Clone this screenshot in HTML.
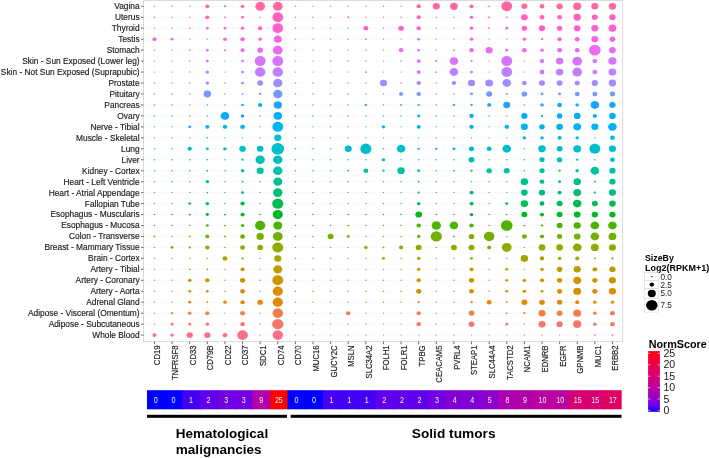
<!DOCTYPE html><html><head><meta charset="utf-8"><style>html,body{margin:0;padding:0;background:#fff;overflow:hidden}svg{display:block;will-change:transform}text{font-family:"Liberation Sans",sans-serif}</style></head><body>
<svg width="709" height="458" viewBox="0 0 709 458">
<rect x="0" y="0" width="709" height="458" fill="#fff"/>
<path d="M143.5 6.30H622.6M143.5 17.26H622.6M143.5 28.22H622.6M143.5 39.18H622.6M143.5 50.14H622.6M143.5 61.10H622.6M143.5 72.06H622.6M143.5 83.02H622.6M143.5 93.98H622.6M143.5 104.94H622.6M143.5 115.90H622.6M143.5 126.86H622.6M143.5 137.82H622.6M143.5 148.78H622.6M143.5 159.74H622.6M143.5 170.70H622.6M143.5 181.66H622.6M143.5 192.62H622.6M143.5 203.58H622.6M143.5 214.54H622.6M143.5 225.50H622.6M143.5 236.46H622.6M143.5 247.42H622.6M143.5 258.38H622.6M143.5 269.34H622.6M143.5 280.30H622.6M143.5 291.26H622.6M143.5 302.22H622.6M143.5 313.18H622.6M143.5 324.14H622.6M143.5 335.10H622.6" stroke="#e6e6ee" stroke-width="0.7" stroke-dasharray="0.7 1.3" fill="none"/>
<path d="M154.50 0.0V341.6M172.11 0.0V341.6M189.73 0.0V341.6M207.34 0.0V341.6M224.95 0.0V341.6M242.56 0.0V341.6M260.18 0.0V341.6M277.79 0.0V341.6M295.40 0.0V341.6M313.02 0.0V341.6M330.63 0.0V341.6M348.24 0.0V341.6M365.86 0.0V341.6M383.47 0.0V341.6M401.08 0.0V341.6M418.69 0.0V341.6M436.31 0.0V341.6M453.92 0.0V341.6M471.53 0.0V341.6M489.15 0.0V341.6M506.76 0.0V341.6M524.37 0.0V341.6M541.99 0.0V341.6M559.60 0.0V341.6M577.21 0.0V341.6M594.83 0.0V341.6M612.44 0.0V341.6" stroke="#eeeef4" stroke-width="0.6" stroke-dasharray="0.6 1.4" fill="none"/>
<ellipse cx="154.50" cy="6.30" rx="0.74" ry="0.68" fill="#FF67A3"/>
<ellipse cx="172.11" cy="6.30" rx="0.74" ry="0.68" fill="#FF67A3"/>
<ellipse cx="189.73" cy="6.30" rx="0.74" ry="0.68" fill="#FF67A3"/>
<ellipse cx="207.34" cy="6.30" rx="2.03" ry="1.86" fill="#FF67A3"/>
<ellipse cx="224.95" cy="6.30" rx="1.08" ry="0.99" fill="#FF67A3"/>
<ellipse cx="242.56" cy="6.30" rx="1.76" ry="1.61" fill="#FF67A3"/>
<ellipse cx="260.18" cy="6.30" rx="4.87" ry="4.47" fill="#FF67A3"/>
<ellipse cx="277.79" cy="6.30" rx="4.87" ry="4.47" fill="#FF67A3"/>
<ellipse cx="295.40" cy="6.30" rx="0.74" ry="0.68" fill="#FF67A3"/>
<ellipse cx="313.02" cy="6.30" rx="0.74" ry="0.68" fill="#FF67A3"/>
<ellipse cx="330.63" cy="6.30" rx="0.74" ry="0.68" fill="#FF67A3"/>
<ellipse cx="348.24" cy="6.30" rx="0.74" ry="0.68" fill="#FF67A3"/>
<ellipse cx="365.86" cy="6.30" rx="0.74" ry="0.68" fill="#FF67A3"/>
<ellipse cx="383.47" cy="6.30" rx="0.74" ry="0.68" fill="#FF67A3"/>
<ellipse cx="401.08" cy="6.30" rx="0.74" ry="0.68" fill="#FF67A3"/>
<ellipse cx="418.69" cy="6.30" rx="2.22" ry="2.03" fill="#FF67A3"/>
<ellipse cx="436.31" cy="6.30" rx="3.54" ry="3.25" fill="#FF67A3"/>
<ellipse cx="453.92" cy="6.30" rx="3.92" ry="3.60" fill="#FF67A3"/>
<ellipse cx="471.53" cy="6.30" rx="2.03" ry="1.86" fill="#FF67A3"/>
<ellipse cx="489.15" cy="6.30" rx="0.94" ry="0.87" fill="#FF67A3"/>
<ellipse cx="506.76" cy="6.30" rx="5.43" ry="4.99" fill="#FF67A3"/>
<ellipse cx="524.37" cy="6.30" rx="2.97" ry="2.73" fill="#FF67A3"/>
<ellipse cx="541.99" cy="6.30" rx="2.41" ry="2.21" fill="#FF67A3"/>
<ellipse cx="559.60" cy="6.30" rx="3.16" ry="2.90" fill="#FF67A3"/>
<ellipse cx="577.21" cy="6.30" rx="4.11" ry="3.77" fill="#FF67A3"/>
<ellipse cx="594.83" cy="6.30" rx="3.54" ry="3.25" fill="#FF67A3"/>
<ellipse cx="612.44" cy="6.30" rx="3.73" ry="3.42" fill="#FF67A3"/>
<ellipse cx="154.50" cy="17.26" rx="0.74" ry="0.68" fill="#FF62BA"/>
<ellipse cx="172.11" cy="17.26" rx="0.74" ry="0.68" fill="#FF62BA"/>
<ellipse cx="189.73" cy="17.26" rx="0.76" ry="0.69" fill="#FF62BA"/>
<ellipse cx="207.34" cy="17.26" rx="2.03" ry="1.86" fill="#FF62BA"/>
<ellipse cx="224.95" cy="17.26" rx="0.94" ry="0.87" fill="#FF62BA"/>
<ellipse cx="242.56" cy="17.26" rx="1.49" ry="1.36" fill="#FF62BA"/>
<ellipse cx="260.18" cy="17.26" rx="0.74" ry="0.68" fill="#FF62BA"/>
<ellipse cx="277.79" cy="17.26" rx="5.34" ry="4.90" fill="#FF62BA"/>
<ellipse cx="295.40" cy="17.26" rx="0.74" ry="0.68" fill="#FF62BA"/>
<ellipse cx="313.02" cy="17.26" rx="0.74" ry="0.68" fill="#FF62BA"/>
<ellipse cx="330.63" cy="17.26" rx="0.74" ry="0.68" fill="#FF62BA"/>
<ellipse cx="348.24" cy="17.26" rx="1.08" ry="0.99" fill="#FF62BA"/>
<ellipse cx="365.86" cy="17.26" rx="0.74" ry="0.68" fill="#FF62BA"/>
<ellipse cx="383.47" cy="17.26" rx="0.74" ry="0.68" fill="#FF62BA"/>
<ellipse cx="401.08" cy="17.26" rx="0.74" ry="0.68" fill="#FF62BA"/>
<ellipse cx="418.69" cy="17.26" rx="2.22" ry="2.03" fill="#FF62BA"/>
<ellipse cx="436.31" cy="17.26" rx="0.74" ry="0.68" fill="#FF62BA"/>
<ellipse cx="453.92" cy="17.26" rx="0.74" ry="0.68" fill="#FF62BA"/>
<ellipse cx="471.53" cy="17.26" rx="1.76" ry="1.61" fill="#FF62BA"/>
<ellipse cx="489.15" cy="17.26" rx="0.94" ry="0.87" fill="#FF62BA"/>
<ellipse cx="506.76" cy="17.26" rx="0.94" ry="0.87" fill="#FF62BA"/>
<ellipse cx="524.37" cy="17.26" rx="3.35" ry="3.08" fill="#FF62BA"/>
<ellipse cx="541.99" cy="17.26" rx="2.41" ry="2.21" fill="#FF62BA"/>
<ellipse cx="559.60" cy="17.26" rx="2.41" ry="2.21" fill="#FF62BA"/>
<ellipse cx="577.21" cy="17.26" rx="3.73" ry="3.42" fill="#FF62BA"/>
<ellipse cx="594.83" cy="17.26" rx="2.97" ry="2.73" fill="#FF62BA"/>
<ellipse cx="612.44" cy="17.26" rx="3.16" ry="2.90" fill="#FF62BA"/>
<ellipse cx="154.50" cy="28.22" rx="0.74" ry="0.68" fill="#FE61CE"/>
<ellipse cx="172.11" cy="28.22" rx="0.74" ry="0.68" fill="#FE61CE"/>
<ellipse cx="189.73" cy="28.22" rx="0.85" ry="0.78" fill="#FE61CE"/>
<ellipse cx="207.34" cy="28.22" rx="1.35" ry="1.24" fill="#FE61CE"/>
<ellipse cx="224.95" cy="28.22" rx="1.35" ry="1.24" fill="#FE61CE"/>
<ellipse cx="242.56" cy="28.22" rx="1.76" ry="1.61" fill="#FE61CE"/>
<ellipse cx="260.18" cy="28.22" rx="2.22" ry="2.03" fill="#FE61CE"/>
<ellipse cx="277.79" cy="28.22" rx="5.34" ry="4.90" fill="#FE61CE"/>
<ellipse cx="295.40" cy="28.22" rx="0.74" ry="0.68" fill="#FE61CE"/>
<ellipse cx="313.02" cy="28.22" rx="0.74" ry="0.68" fill="#FE61CE"/>
<ellipse cx="330.63" cy="28.22" rx="0.74" ry="0.68" fill="#FE61CE"/>
<ellipse cx="348.24" cy="28.22" rx="0.74" ry="0.68" fill="#FE61CE"/>
<ellipse cx="365.86" cy="28.22" rx="2.50" ry="2.30" fill="#FE61CE"/>
<ellipse cx="383.47" cy="28.22" rx="0.74" ry="0.68" fill="#FE61CE"/>
<ellipse cx="401.08" cy="28.22" rx="2.79" ry="2.56" fill="#FE61CE"/>
<ellipse cx="418.69" cy="28.22" rx="2.22" ry="2.03" fill="#FE61CE"/>
<ellipse cx="436.31" cy="28.22" rx="0.74" ry="0.68" fill="#FE61CE"/>
<ellipse cx="453.92" cy="28.22" rx="0.74" ry="0.68" fill="#FE61CE"/>
<ellipse cx="471.53" cy="28.22" rx="1.76" ry="1.61" fill="#FE61CE"/>
<ellipse cx="489.15" cy="28.22" rx="0.94" ry="0.87" fill="#FE61CE"/>
<ellipse cx="506.76" cy="28.22" rx="1.49" ry="1.36" fill="#FE61CE"/>
<ellipse cx="524.37" cy="28.22" rx="2.79" ry="2.56" fill="#FE61CE"/>
<ellipse cx="541.99" cy="28.22" rx="3.16" ry="2.90" fill="#FE61CE"/>
<ellipse cx="559.60" cy="28.22" rx="2.79" ry="2.56" fill="#FE61CE"/>
<ellipse cx="577.21" cy="28.22" rx="3.35" ry="3.08" fill="#FE61CE"/>
<ellipse cx="594.83" cy="28.22" rx="3.54" ry="3.25" fill="#FE61CE"/>
<ellipse cx="612.44" cy="28.22" rx="3.92" ry="3.60" fill="#FE61CE"/>
<ellipse cx="154.50" cy="39.18" rx="2.03" ry="1.86" fill="#F763E1"/>
<ellipse cx="172.11" cy="39.18" rx="1.49" ry="1.36" fill="#F763E1"/>
<ellipse cx="189.73" cy="39.18" rx="0.74" ry="0.68" fill="#F763E1"/>
<ellipse cx="207.34" cy="39.18" rx="0.76" ry="0.69" fill="#F763E1"/>
<ellipse cx="224.95" cy="39.18" rx="1.89" ry="1.74" fill="#F763E1"/>
<ellipse cx="242.56" cy="39.18" rx="2.22" ry="2.03" fill="#F763E1"/>
<ellipse cx="260.18" cy="39.18" rx="1.76" ry="1.61" fill="#F763E1"/>
<ellipse cx="277.79" cy="39.18" rx="3.92" ry="3.60" fill="#F763E1"/>
<ellipse cx="295.40" cy="39.18" rx="0.74" ry="0.68" fill="#F763E1"/>
<ellipse cx="313.02" cy="39.18" rx="0.74" ry="0.68" fill="#F763E1"/>
<ellipse cx="330.63" cy="39.18" rx="0.74" ry="0.68" fill="#F763E1"/>
<ellipse cx="348.24" cy="39.18" rx="0.85" ry="0.78" fill="#F763E1"/>
<ellipse cx="365.86" cy="39.18" rx="0.94" ry="0.87" fill="#F763E1"/>
<ellipse cx="383.47" cy="39.18" rx="0.74" ry="0.68" fill="#F763E1"/>
<ellipse cx="401.08" cy="39.18" rx="0.74" ry="0.68" fill="#F763E1"/>
<ellipse cx="418.69" cy="39.18" rx="1.35" ry="1.24" fill="#F763E1"/>
<ellipse cx="436.31" cy="39.18" rx="0.74" ry="0.68" fill="#F763E1"/>
<ellipse cx="453.92" cy="39.18" rx="0.74" ry="0.68" fill="#F763E1"/>
<ellipse cx="471.53" cy="39.18" rx="1.76" ry="1.61" fill="#F763E1"/>
<ellipse cx="489.15" cy="39.18" rx="0.76" ry="0.69" fill="#F763E1"/>
<ellipse cx="506.76" cy="39.18" rx="0.74" ry="0.68" fill="#F763E1"/>
<ellipse cx="524.37" cy="39.18" rx="1.76" ry="1.61" fill="#F763E1"/>
<ellipse cx="541.99" cy="39.18" rx="1.22" ry="1.12" fill="#F763E1"/>
<ellipse cx="559.60" cy="39.18" rx="2.22" ry="2.03" fill="#F763E1"/>
<ellipse cx="577.21" cy="39.18" rx="2.41" ry="2.21" fill="#F763E1"/>
<ellipse cx="594.83" cy="39.18" rx="3.35" ry="3.08" fill="#F763E1"/>
<ellipse cx="612.44" cy="39.18" rx="2.79" ry="2.56" fill="#F763E1"/>
<ellipse cx="154.50" cy="50.14" rx="0.74" ry="0.68" fill="#EA6AF0"/>
<ellipse cx="172.11" cy="50.14" rx="0.74" ry="0.68" fill="#EA6AF0"/>
<ellipse cx="189.73" cy="50.14" rx="0.85" ry="0.78" fill="#EA6AF0"/>
<ellipse cx="207.34" cy="50.14" rx="1.35" ry="1.24" fill="#EA6AF0"/>
<ellipse cx="224.95" cy="50.14" rx="1.08" ry="0.99" fill="#EA6AF0"/>
<ellipse cx="242.56" cy="50.14" rx="2.03" ry="1.86" fill="#EA6AF0"/>
<ellipse cx="260.18" cy="50.14" rx="2.79" ry="2.56" fill="#EA6AF0"/>
<ellipse cx="277.79" cy="50.14" rx="4.87" ry="4.47" fill="#EA6AF0"/>
<ellipse cx="295.40" cy="50.14" rx="0.74" ry="0.68" fill="#EA6AF0"/>
<ellipse cx="313.02" cy="50.14" rx="0.74" ry="0.68" fill="#EA6AF0"/>
<ellipse cx="330.63" cy="50.14" rx="0.74" ry="0.68" fill="#EA6AF0"/>
<ellipse cx="348.24" cy="50.14" rx="0.76" ry="0.69" fill="#EA6AF0"/>
<ellipse cx="365.86" cy="50.14" rx="0.74" ry="0.68" fill="#EA6AF0"/>
<ellipse cx="383.47" cy="50.14" rx="0.74" ry="0.68" fill="#EA6AF0"/>
<ellipse cx="401.08" cy="50.14" rx="2.22" ry="2.03" fill="#EA6AF0"/>
<ellipse cx="418.69" cy="50.14" rx="1.35" ry="1.24" fill="#EA6AF0"/>
<ellipse cx="436.31" cy="50.14" rx="0.74" ry="0.68" fill="#EA6AF0"/>
<ellipse cx="453.92" cy="50.14" rx="0.94" ry="0.87" fill="#EA6AF0"/>
<ellipse cx="471.53" cy="50.14" rx="2.22" ry="2.03" fill="#EA6AF0"/>
<ellipse cx="489.15" cy="50.14" rx="3.54" ry="3.25" fill="#EA6AF0"/>
<ellipse cx="506.76" cy="50.14" rx="1.49" ry="1.36" fill="#EA6AF0"/>
<ellipse cx="524.37" cy="50.14" rx="2.41" ry="2.21" fill="#EA6AF0"/>
<ellipse cx="541.99" cy="50.14" rx="1.76" ry="1.61" fill="#EA6AF0"/>
<ellipse cx="559.60" cy="50.14" rx="2.41" ry="2.21" fill="#EA6AF0"/>
<ellipse cx="577.21" cy="50.14" rx="2.41" ry="2.21" fill="#EA6AF0"/>
<ellipse cx="594.83" cy="50.14" rx="5.81" ry="5.33" fill="#EA6AF0"/>
<ellipse cx="612.44" cy="50.14" rx="3.35" ry="3.08" fill="#EA6AF0"/>
<ellipse cx="154.50" cy="61.10" rx="0.74" ry="0.68" fill="#D873FC"/>
<ellipse cx="172.11" cy="61.10" rx="0.76" ry="0.69" fill="#D873FC"/>
<ellipse cx="189.73" cy="61.10" rx="0.85" ry="0.78" fill="#D873FC"/>
<ellipse cx="207.34" cy="61.10" rx="1.49" ry="1.36" fill="#D873FC"/>
<ellipse cx="224.95" cy="61.10" rx="0.74" ry="0.68" fill="#D873FC"/>
<ellipse cx="242.56" cy="61.10" rx="1.35" ry="1.24" fill="#D873FC"/>
<ellipse cx="260.18" cy="61.10" rx="5.43" ry="4.99" fill="#D873FC"/>
<ellipse cx="277.79" cy="61.10" rx="5.43" ry="4.99" fill="#D873FC"/>
<ellipse cx="295.40" cy="61.10" rx="0.74" ry="0.68" fill="#D873FC"/>
<ellipse cx="313.02" cy="61.10" rx="0.74" ry="0.68" fill="#D873FC"/>
<ellipse cx="330.63" cy="61.10" rx="0.85" ry="0.78" fill="#D873FC"/>
<ellipse cx="348.24" cy="61.10" rx="0.85" ry="0.78" fill="#D873FC"/>
<ellipse cx="365.86" cy="61.10" rx="0.85" ry="0.78" fill="#D873FC"/>
<ellipse cx="383.47" cy="61.10" rx="0.76" ry="0.69" fill="#D873FC"/>
<ellipse cx="401.08" cy="61.10" rx="0.85" ry="0.78" fill="#D873FC"/>
<ellipse cx="418.69" cy="61.10" rx="2.03" ry="1.86" fill="#D873FC"/>
<ellipse cx="436.31" cy="61.10" rx="1.08" ry="0.99" fill="#D873FC"/>
<ellipse cx="453.92" cy="61.10" rx="4.30" ry="3.94" fill="#D873FC"/>
<ellipse cx="471.53" cy="61.10" rx="1.08" ry="0.99" fill="#D873FC"/>
<ellipse cx="489.15" cy="61.10" rx="0.76" ry="0.69" fill="#D873FC"/>
<ellipse cx="506.76" cy="61.10" rx="5.43" ry="4.99" fill="#D873FC"/>
<ellipse cx="524.37" cy="61.10" rx="0.74" ry="0.68" fill="#D873FC"/>
<ellipse cx="541.99" cy="61.10" rx="2.22" ry="2.03" fill="#D873FC"/>
<ellipse cx="559.60" cy="61.10" rx="3.73" ry="3.42" fill="#D873FC"/>
<ellipse cx="577.21" cy="61.10" rx="4.87" ry="4.47" fill="#D873FC"/>
<ellipse cx="594.83" cy="61.10" rx="2.41" ry="2.21" fill="#D873FC"/>
<ellipse cx="612.44" cy="61.10" rx="4.11" ry="3.77" fill="#D873FC"/>
<ellipse cx="154.50" cy="72.06" rx="0.74" ry="0.68" fill="#C07FFF"/>
<ellipse cx="172.11" cy="72.06" rx="0.74" ry="0.68" fill="#C07FFF"/>
<ellipse cx="189.73" cy="72.06" rx="0.76" ry="0.69" fill="#C07FFF"/>
<ellipse cx="207.34" cy="72.06" rx="1.76" ry="1.61" fill="#C07FFF"/>
<ellipse cx="224.95" cy="72.06" rx="0.74" ry="0.68" fill="#C07FFF"/>
<ellipse cx="242.56" cy="72.06" rx="1.49" ry="1.36" fill="#C07FFF"/>
<ellipse cx="260.18" cy="72.06" rx="5.25" ry="4.81" fill="#C07FFF"/>
<ellipse cx="277.79" cy="72.06" rx="5.25" ry="4.81" fill="#C07FFF"/>
<ellipse cx="295.40" cy="72.06" rx="0.74" ry="0.68" fill="#C07FFF"/>
<ellipse cx="313.02" cy="72.06" rx="0.74" ry="0.68" fill="#C07FFF"/>
<ellipse cx="330.63" cy="72.06" rx="0.74" ry="0.68" fill="#C07FFF"/>
<ellipse cx="348.24" cy="72.06" rx="0.74" ry="0.68" fill="#C07FFF"/>
<ellipse cx="365.86" cy="72.06" rx="0.94" ry="0.87" fill="#C07FFF"/>
<ellipse cx="383.47" cy="72.06" rx="0.74" ry="0.68" fill="#C07FFF"/>
<ellipse cx="401.08" cy="72.06" rx="0.74" ry="0.68" fill="#C07FFF"/>
<ellipse cx="418.69" cy="72.06" rx="2.03" ry="1.86" fill="#C07FFF"/>
<ellipse cx="436.31" cy="72.06" rx="0.94" ry="0.87" fill="#C07FFF"/>
<ellipse cx="453.92" cy="72.06" rx="4.30" ry="3.94" fill="#C07FFF"/>
<ellipse cx="471.53" cy="72.06" rx="1.49" ry="1.36" fill="#C07FFF"/>
<ellipse cx="489.15" cy="72.06" rx="0.74" ry="0.68" fill="#C07FFF"/>
<ellipse cx="506.76" cy="72.06" rx="5.43" ry="4.99" fill="#C07FFF"/>
<ellipse cx="524.37" cy="72.06" rx="0.74" ry="0.68" fill="#C07FFF"/>
<ellipse cx="541.99" cy="72.06" rx="2.41" ry="2.21" fill="#C07FFF"/>
<ellipse cx="559.60" cy="72.06" rx="3.73" ry="3.42" fill="#C07FFF"/>
<ellipse cx="577.21" cy="72.06" rx="4.87" ry="4.47" fill="#C07FFF"/>
<ellipse cx="594.83" cy="72.06" rx="2.41" ry="2.21" fill="#C07FFF"/>
<ellipse cx="612.44" cy="72.06" rx="3.92" ry="3.60" fill="#C07FFF"/>
<ellipse cx="154.50" cy="83.02" rx="0.74" ry="0.68" fill="#A08CFF"/>
<ellipse cx="172.11" cy="83.02" rx="0.74" ry="0.68" fill="#A08CFF"/>
<ellipse cx="189.73" cy="83.02" rx="0.85" ry="0.78" fill="#A08CFF"/>
<ellipse cx="207.34" cy="83.02" rx="1.76" ry="1.61" fill="#A08CFF"/>
<ellipse cx="224.95" cy="83.02" rx="0.76" ry="0.69" fill="#A08CFF"/>
<ellipse cx="242.56" cy="83.02" rx="1.49" ry="1.36" fill="#A08CFF"/>
<ellipse cx="260.18" cy="83.02" rx="2.97" ry="2.73" fill="#A08CFF"/>
<ellipse cx="277.79" cy="83.02" rx="4.68" ry="4.29" fill="#A08CFF"/>
<ellipse cx="295.40" cy="83.02" rx="0.74" ry="0.68" fill="#A08CFF"/>
<ellipse cx="313.02" cy="83.02" rx="0.74" ry="0.68" fill="#A08CFF"/>
<ellipse cx="330.63" cy="83.02" rx="0.74" ry="0.68" fill="#A08CFF"/>
<ellipse cx="348.24" cy="83.02" rx="0.74" ry="0.68" fill="#A08CFF"/>
<ellipse cx="365.86" cy="83.02" rx="0.74" ry="0.68" fill="#A08CFF"/>
<ellipse cx="383.47" cy="83.02" rx="3.54" ry="3.25" fill="#A08CFF"/>
<ellipse cx="401.08" cy="83.02" rx="0.74" ry="0.68" fill="#A08CFF"/>
<ellipse cx="418.69" cy="83.02" rx="2.22" ry="2.03" fill="#A08CFF"/>
<ellipse cx="436.31" cy="83.02" rx="0.74" ry="0.68" fill="#A08CFF"/>
<ellipse cx="453.92" cy="83.02" rx="2.22" ry="2.03" fill="#A08CFF"/>
<ellipse cx="471.53" cy="83.02" rx="3.54" ry="3.25" fill="#A08CFF"/>
<ellipse cx="489.15" cy="83.02" rx="3.92" ry="3.60" fill="#A08CFF"/>
<ellipse cx="506.76" cy="83.02" rx="4.30" ry="3.94" fill="#A08CFF"/>
<ellipse cx="524.37" cy="83.02" rx="2.41" ry="2.21" fill="#A08CFF"/>
<ellipse cx="541.99" cy="83.02" rx="2.97" ry="2.73" fill="#A08CFF"/>
<ellipse cx="559.60" cy="83.02" rx="2.97" ry="2.73" fill="#A08CFF"/>
<ellipse cx="577.21" cy="83.02" rx="2.60" ry="2.38" fill="#A08CFF"/>
<ellipse cx="594.83" cy="83.02" rx="3.16" ry="2.90" fill="#A08CFF"/>
<ellipse cx="612.44" cy="83.02" rx="3.73" ry="3.42" fill="#A08CFF"/>
<ellipse cx="154.50" cy="93.98" rx="0.74" ry="0.68" fill="#7498FF"/>
<ellipse cx="172.11" cy="93.98" rx="0.74" ry="0.68" fill="#7498FF"/>
<ellipse cx="189.73" cy="93.98" rx="0.74" ry="0.68" fill="#7498FF"/>
<ellipse cx="207.34" cy="93.98" rx="3.73" ry="3.42" fill="#7498FF"/>
<ellipse cx="224.95" cy="93.98" rx="0.74" ry="0.68" fill="#7498FF"/>
<ellipse cx="242.56" cy="93.98" rx="0.94" ry="0.87" fill="#7498FF"/>
<ellipse cx="260.18" cy="93.98" rx="1.22" ry="1.12" fill="#7498FF"/>
<ellipse cx="277.79" cy="93.98" rx="4.68" ry="4.29" fill="#7498FF"/>
<ellipse cx="295.40" cy="93.98" rx="0.74" ry="0.68" fill="#7498FF"/>
<ellipse cx="313.02" cy="93.98" rx="0.74" ry="0.68" fill="#7498FF"/>
<ellipse cx="330.63" cy="93.98" rx="0.74" ry="0.68" fill="#7498FF"/>
<ellipse cx="348.24" cy="93.98" rx="0.76" ry="0.69" fill="#7498FF"/>
<ellipse cx="365.86" cy="93.98" rx="0.74" ry="0.68" fill="#7498FF"/>
<ellipse cx="383.47" cy="93.98" rx="0.74" ry="0.68" fill="#7498FF"/>
<ellipse cx="401.08" cy="93.98" rx="2.03" ry="1.86" fill="#7498FF"/>
<ellipse cx="418.69" cy="93.98" rx="2.22" ry="2.03" fill="#7498FF"/>
<ellipse cx="436.31" cy="93.98" rx="0.74" ry="0.68" fill="#7498FF"/>
<ellipse cx="453.92" cy="93.98" rx="0.76" ry="0.69" fill="#7498FF"/>
<ellipse cx="471.53" cy="93.98" rx="1.49" ry="1.36" fill="#7498FF"/>
<ellipse cx="489.15" cy="93.98" rx="2.97" ry="2.73" fill="#7498FF"/>
<ellipse cx="506.76" cy="93.98" rx="0.94" ry="0.87" fill="#7498FF"/>
<ellipse cx="524.37" cy="93.98" rx="2.79" ry="2.56" fill="#7498FF"/>
<ellipse cx="541.99" cy="93.98" rx="1.49" ry="1.36" fill="#7498FF"/>
<ellipse cx="559.60" cy="93.98" rx="1.49" ry="1.36" fill="#7498FF"/>
<ellipse cx="577.21" cy="93.98" rx="2.41" ry="2.21" fill="#7498FF"/>
<ellipse cx="594.83" cy="93.98" rx="2.41" ry="2.21" fill="#7498FF"/>
<ellipse cx="612.44" cy="93.98" rx="2.60" ry="2.38" fill="#7498FF"/>
<ellipse cx="154.50" cy="104.94" rx="0.74" ry="0.68" fill="#1EA3FF"/>
<ellipse cx="172.11" cy="104.94" rx="0.74" ry="0.68" fill="#1EA3FF"/>
<ellipse cx="189.73" cy="104.94" rx="0.74" ry="0.68" fill="#1EA3FF"/>
<ellipse cx="207.34" cy="104.94" rx="0.76" ry="0.69" fill="#1EA3FF"/>
<ellipse cx="224.95" cy="104.94" rx="0.74" ry="0.68" fill="#1EA3FF"/>
<ellipse cx="242.56" cy="104.94" rx="1.35" ry="1.24" fill="#1EA3FF"/>
<ellipse cx="260.18" cy="104.94" rx="2.22" ry="2.03" fill="#1EA3FF"/>
<ellipse cx="277.79" cy="104.94" rx="4.11" ry="3.77" fill="#1EA3FF"/>
<ellipse cx="295.40" cy="104.94" rx="0.74" ry="0.68" fill="#1EA3FF"/>
<ellipse cx="313.02" cy="104.94" rx="0.74" ry="0.68" fill="#1EA3FF"/>
<ellipse cx="330.63" cy="104.94" rx="0.74" ry="0.68" fill="#1EA3FF"/>
<ellipse cx="348.24" cy="104.94" rx="0.74" ry="0.68" fill="#1EA3FF"/>
<ellipse cx="365.86" cy="104.94" rx="1.22" ry="1.12" fill="#1EA3FF"/>
<ellipse cx="383.47" cy="104.94" rx="0.74" ry="0.68" fill="#1EA3FF"/>
<ellipse cx="401.08" cy="104.94" rx="0.94" ry="0.87" fill="#1EA3FF"/>
<ellipse cx="418.69" cy="104.94" rx="1.08" ry="0.99" fill="#1EA3FF"/>
<ellipse cx="436.31" cy="104.94" rx="0.74" ry="0.68" fill="#1EA3FF"/>
<ellipse cx="453.92" cy="104.94" rx="1.22" ry="1.12" fill="#1EA3FF"/>
<ellipse cx="471.53" cy="104.94" rx="1.22" ry="1.12" fill="#1EA3FF"/>
<ellipse cx="489.15" cy="104.94" rx="2.03" ry="1.86" fill="#1EA3FF"/>
<ellipse cx="506.76" cy="104.94" rx="3.54" ry="3.25" fill="#1EA3FF"/>
<ellipse cx="524.37" cy="104.94" rx="0.74" ry="0.68" fill="#1EA3FF"/>
<ellipse cx="541.99" cy="104.94" rx="1.76" ry="1.61" fill="#1EA3FF"/>
<ellipse cx="559.60" cy="104.94" rx="2.41" ry="2.21" fill="#1EA3FF"/>
<ellipse cx="577.21" cy="104.94" rx="1.76" ry="1.61" fill="#1EA3FF"/>
<ellipse cx="594.83" cy="104.94" rx="4.30" ry="3.94" fill="#1EA3FF"/>
<ellipse cx="612.44" cy="104.94" rx="3.16" ry="2.90" fill="#1EA3FF"/>
<ellipse cx="154.50" cy="115.90" rx="0.74" ry="0.68" fill="#00ADFB"/>
<ellipse cx="172.11" cy="115.90" rx="0.74" ry="0.68" fill="#00ADFB"/>
<ellipse cx="189.73" cy="115.90" rx="0.74" ry="0.68" fill="#00ADFB"/>
<ellipse cx="207.34" cy="115.90" rx="0.76" ry="0.69" fill="#00ADFB"/>
<ellipse cx="224.95" cy="115.90" rx="4.30" ry="3.94" fill="#00ADFB"/>
<ellipse cx="242.56" cy="115.90" rx="1.76" ry="1.61" fill="#00ADFB"/>
<ellipse cx="260.18" cy="115.90" rx="0.74" ry="0.68" fill="#00ADFB"/>
<ellipse cx="277.79" cy="115.90" rx="4.30" ry="3.94" fill="#00ADFB"/>
<ellipse cx="295.40" cy="115.90" rx="0.74" ry="0.68" fill="#00ADFB"/>
<ellipse cx="313.02" cy="115.90" rx="0.74" ry="0.68" fill="#00ADFB"/>
<ellipse cx="330.63" cy="115.90" rx="0.74" ry="0.68" fill="#00ADFB"/>
<ellipse cx="348.24" cy="115.90" rx="0.74" ry="0.68" fill="#00ADFB"/>
<ellipse cx="365.86" cy="115.90" rx="0.74" ry="0.68" fill="#00ADFB"/>
<ellipse cx="383.47" cy="115.90" rx="0.74" ry="0.68" fill="#00ADFB"/>
<ellipse cx="401.08" cy="115.90" rx="0.74" ry="0.68" fill="#00ADFB"/>
<ellipse cx="418.69" cy="115.90" rx="1.49" ry="1.36" fill="#00ADFB"/>
<ellipse cx="436.31" cy="115.90" rx="0.74" ry="0.68" fill="#00ADFB"/>
<ellipse cx="453.92" cy="115.90" rx="0.74" ry="0.68" fill="#00ADFB"/>
<ellipse cx="471.53" cy="115.90" rx="2.22" ry="2.03" fill="#00ADFB"/>
<ellipse cx="489.15" cy="115.90" rx="0.76" ry="0.69" fill="#00ADFB"/>
<ellipse cx="506.76" cy="115.90" rx="0.76" ry="0.69" fill="#00ADFB"/>
<ellipse cx="524.37" cy="115.90" rx="3.16" ry="2.90" fill="#00ADFB"/>
<ellipse cx="541.99" cy="115.90" rx="1.22" ry="1.12" fill="#00ADFB"/>
<ellipse cx="559.60" cy="115.90" rx="2.79" ry="2.56" fill="#00ADFB"/>
<ellipse cx="577.21" cy="115.90" rx="3.35" ry="3.08" fill="#00ADFB"/>
<ellipse cx="594.83" cy="115.90" rx="2.03" ry="1.86" fill="#00ADFB"/>
<ellipse cx="612.44" cy="115.90" rx="3.35" ry="3.08" fill="#00ADFB"/>
<ellipse cx="154.50" cy="126.86" rx="0.74" ry="0.68" fill="#00B4EF"/>
<ellipse cx="172.11" cy="126.86" rx="0.76" ry="0.69" fill="#00B4EF"/>
<ellipse cx="189.73" cy="126.86" rx="1.49" ry="1.36" fill="#00B4EF"/>
<ellipse cx="207.34" cy="126.86" rx="2.03" ry="1.86" fill="#00B4EF"/>
<ellipse cx="224.95" cy="126.86" rx="2.22" ry="2.03" fill="#00B4EF"/>
<ellipse cx="242.56" cy="126.86" rx="2.41" ry="2.21" fill="#00B4EF"/>
<ellipse cx="260.18" cy="126.86" rx="0.76" ry="0.69" fill="#00B4EF"/>
<ellipse cx="277.79" cy="126.86" rx="5.43" ry="4.99" fill="#00B4EF"/>
<ellipse cx="295.40" cy="126.86" rx="0.74" ry="0.68" fill="#00B4EF"/>
<ellipse cx="313.02" cy="126.86" rx="0.74" ry="0.68" fill="#00B4EF"/>
<ellipse cx="330.63" cy="126.86" rx="0.74" ry="0.68" fill="#00B4EF"/>
<ellipse cx="348.24" cy="126.86" rx="0.74" ry="0.68" fill="#00B4EF"/>
<ellipse cx="365.86" cy="126.86" rx="0.74" ry="0.68" fill="#00B4EF"/>
<ellipse cx="383.47" cy="126.86" rx="1.76" ry="1.61" fill="#00B4EF"/>
<ellipse cx="401.08" cy="126.86" rx="0.74" ry="0.68" fill="#00B4EF"/>
<ellipse cx="418.69" cy="126.86" rx="2.03" ry="1.86" fill="#00B4EF"/>
<ellipse cx="436.31" cy="126.86" rx="0.74" ry="0.68" fill="#00B4EF"/>
<ellipse cx="453.92" cy="126.86" rx="0.74" ry="0.68" fill="#00B4EF"/>
<ellipse cx="471.53" cy="126.86" rx="2.22" ry="2.03" fill="#00B4EF"/>
<ellipse cx="489.15" cy="126.86" rx="0.76" ry="0.69" fill="#00B4EF"/>
<ellipse cx="506.76" cy="126.86" rx="2.22" ry="2.03" fill="#00B4EF"/>
<ellipse cx="524.37" cy="126.86" rx="3.54" ry="3.25" fill="#00B4EF"/>
<ellipse cx="541.99" cy="126.86" rx="2.79" ry="2.56" fill="#00B4EF"/>
<ellipse cx="559.60" cy="126.86" rx="3.35" ry="3.08" fill="#00B4EF"/>
<ellipse cx="577.21" cy="126.86" rx="3.92" ry="3.60" fill="#00B4EF"/>
<ellipse cx="594.83" cy="126.86" rx="3.54" ry="3.25" fill="#00B4EF"/>
<ellipse cx="612.44" cy="126.86" rx="4.30" ry="3.94" fill="#00B4EF"/>
<ellipse cx="154.50" cy="137.82" rx="0.74" ry="0.68" fill="#00BAE0"/>
<ellipse cx="172.11" cy="137.82" rx="0.74" ry="0.68" fill="#00BAE0"/>
<ellipse cx="189.73" cy="137.82" rx="0.74" ry="0.68" fill="#00BAE0"/>
<ellipse cx="207.34" cy="137.82" rx="0.85" ry="0.78" fill="#00BAE0"/>
<ellipse cx="224.95" cy="137.82" rx="0.74" ry="0.68" fill="#00BAE0"/>
<ellipse cx="242.56" cy="137.82" rx="0.76" ry="0.69" fill="#00BAE0"/>
<ellipse cx="260.18" cy="137.82" rx="0.74" ry="0.68" fill="#00BAE0"/>
<ellipse cx="277.79" cy="137.82" rx="3.54" ry="3.25" fill="#00BAE0"/>
<ellipse cx="295.40" cy="137.82" rx="0.74" ry="0.68" fill="#00BAE0"/>
<ellipse cx="313.02" cy="137.82" rx="0.74" ry="0.68" fill="#00BAE0"/>
<ellipse cx="330.63" cy="137.82" rx="0.74" ry="0.68" fill="#00BAE0"/>
<ellipse cx="348.24" cy="137.82" rx="0.74" ry="0.68" fill="#00BAE0"/>
<ellipse cx="365.86" cy="137.82" rx="0.74" ry="0.68" fill="#00BAE0"/>
<ellipse cx="383.47" cy="137.82" rx="0.74" ry="0.68" fill="#00BAE0"/>
<ellipse cx="401.08" cy="137.82" rx="0.74" ry="0.68" fill="#00BAE0"/>
<ellipse cx="418.69" cy="137.82" rx="0.74" ry="0.68" fill="#00BAE0"/>
<ellipse cx="436.31" cy="137.82" rx="0.74" ry="0.68" fill="#00BAE0"/>
<ellipse cx="453.92" cy="137.82" rx="0.74" ry="0.68" fill="#00BAE0"/>
<ellipse cx="471.53" cy="137.82" rx="0.74" ry="0.68" fill="#00BAE0"/>
<ellipse cx="489.15" cy="137.82" rx="0.74" ry="0.68" fill="#00BAE0"/>
<ellipse cx="506.76" cy="137.82" rx="0.74" ry="0.68" fill="#00BAE0"/>
<ellipse cx="524.37" cy="137.82" rx="1.76" ry="1.61" fill="#00BAE0"/>
<ellipse cx="541.99" cy="137.82" rx="1.76" ry="1.61" fill="#00BAE0"/>
<ellipse cx="559.60" cy="137.82" rx="2.03" ry="1.86" fill="#00BAE0"/>
<ellipse cx="577.21" cy="137.82" rx="1.76" ry="1.61" fill="#00BAE0"/>
<ellipse cx="594.83" cy="137.82" rx="0.74" ry="0.68" fill="#00BAE0"/>
<ellipse cx="612.44" cy="137.82" rx="2.41" ry="2.21" fill="#00BAE0"/>
<ellipse cx="154.50" cy="148.78" rx="0.74" ry="0.68" fill="#00BECE"/>
<ellipse cx="172.11" cy="148.78" rx="0.74" ry="0.68" fill="#00BECE"/>
<ellipse cx="189.73" cy="148.78" rx="2.22" ry="2.03" fill="#00BECE"/>
<ellipse cx="207.34" cy="148.78" rx="1.49" ry="1.36" fill="#00BECE"/>
<ellipse cx="224.95" cy="148.78" rx="1.76" ry="1.61" fill="#00BECE"/>
<ellipse cx="242.56" cy="148.78" rx="3.35" ry="3.08" fill="#00BECE"/>
<ellipse cx="260.18" cy="148.78" rx="3.35" ry="3.08" fill="#00BECE"/>
<ellipse cx="277.79" cy="148.78" rx="6.38" ry="5.85" fill="#00BECE"/>
<ellipse cx="295.40" cy="148.78" rx="0.74" ry="0.68" fill="#00BECE"/>
<ellipse cx="313.02" cy="148.78" rx="0.74" ry="0.68" fill="#00BECE"/>
<ellipse cx="330.63" cy="148.78" rx="0.74" ry="0.68" fill="#00BECE"/>
<ellipse cx="348.24" cy="148.78" rx="3.54" ry="3.25" fill="#00BECE"/>
<ellipse cx="365.86" cy="148.78" rx="5.62" ry="5.16" fill="#00BECE"/>
<ellipse cx="383.47" cy="148.78" rx="0.76" ry="0.69" fill="#00BECE"/>
<ellipse cx="401.08" cy="148.78" rx="4.30" ry="3.94" fill="#00BECE"/>
<ellipse cx="418.69" cy="148.78" rx="1.22" ry="1.12" fill="#00BECE"/>
<ellipse cx="436.31" cy="148.78" rx="1.22" ry="1.12" fill="#00BECE"/>
<ellipse cx="453.92" cy="148.78" rx="1.49" ry="1.36" fill="#00BECE"/>
<ellipse cx="471.53" cy="148.78" rx="2.60" ry="2.38" fill="#00BECE"/>
<ellipse cx="489.15" cy="148.78" rx="2.41" ry="2.21" fill="#00BECE"/>
<ellipse cx="506.76" cy="148.78" rx="4.30" ry="3.94" fill="#00BECE"/>
<ellipse cx="524.37" cy="148.78" rx="0.76" ry="0.69" fill="#00BECE"/>
<ellipse cx="541.99" cy="148.78" rx="3.73" ry="3.42" fill="#00BECE"/>
<ellipse cx="559.60" cy="148.78" rx="2.97" ry="2.73" fill="#00BECE"/>
<ellipse cx="577.21" cy="148.78" rx="3.92" ry="3.60" fill="#00BECE"/>
<ellipse cx="594.83" cy="148.78" rx="5.43" ry="4.99" fill="#00BECE"/>
<ellipse cx="612.44" cy="148.78" rx="3.54" ry="3.25" fill="#00BECE"/>
<ellipse cx="154.50" cy="159.74" rx="0.74" ry="0.68" fill="#00C0BA"/>
<ellipse cx="172.11" cy="159.74" rx="0.74" ry="0.68" fill="#00C0BA"/>
<ellipse cx="189.73" cy="159.74" rx="0.74" ry="0.68" fill="#00C0BA"/>
<ellipse cx="207.34" cy="159.74" rx="0.85" ry="0.78" fill="#00C0BA"/>
<ellipse cx="224.95" cy="159.74" rx="0.74" ry="0.68" fill="#00C0BA"/>
<ellipse cx="242.56" cy="159.74" rx="1.22" ry="1.12" fill="#00C0BA"/>
<ellipse cx="260.18" cy="159.74" rx="4.68" ry="4.29" fill="#00C0BA"/>
<ellipse cx="277.79" cy="159.74" rx="4.68" ry="4.29" fill="#00C0BA"/>
<ellipse cx="295.40" cy="159.74" rx="0.74" ry="0.68" fill="#00C0BA"/>
<ellipse cx="313.02" cy="159.74" rx="0.74" ry="0.68" fill="#00C0BA"/>
<ellipse cx="330.63" cy="159.74" rx="0.74" ry="0.68" fill="#00C0BA"/>
<ellipse cx="348.24" cy="159.74" rx="0.74" ry="0.68" fill="#00C0BA"/>
<ellipse cx="365.86" cy="159.74" rx="0.74" ry="0.68" fill="#00C0BA"/>
<ellipse cx="383.47" cy="159.74" rx="1.76" ry="1.61" fill="#00C0BA"/>
<ellipse cx="401.08" cy="159.74" rx="0.74" ry="0.68" fill="#00C0BA"/>
<ellipse cx="418.69" cy="159.74" rx="0.74" ry="0.68" fill="#00C0BA"/>
<ellipse cx="436.31" cy="159.74" rx="0.74" ry="0.68" fill="#00C0BA"/>
<ellipse cx="453.92" cy="159.74" rx="0.74" ry="0.68" fill="#00C0BA"/>
<ellipse cx="471.53" cy="159.74" rx="2.97" ry="2.73" fill="#00C0BA"/>
<ellipse cx="489.15" cy="159.74" rx="0.74" ry="0.68" fill="#00C0BA"/>
<ellipse cx="506.76" cy="159.74" rx="0.74" ry="0.68" fill="#00C0BA"/>
<ellipse cx="524.37" cy="159.74" rx="0.74" ry="0.68" fill="#00C0BA"/>
<ellipse cx="541.99" cy="159.74" rx="2.60" ry="2.38" fill="#00C0BA"/>
<ellipse cx="559.60" cy="159.74" rx="2.79" ry="2.56" fill="#00C0BA"/>
<ellipse cx="577.21" cy="159.74" rx="1.22" ry="1.12" fill="#00C0BA"/>
<ellipse cx="594.83" cy="159.74" rx="0.76" ry="0.69" fill="#00C0BA"/>
<ellipse cx="612.44" cy="159.74" rx="2.41" ry="2.21" fill="#00C0BA"/>
<ellipse cx="154.50" cy="170.70" rx="0.74" ry="0.68" fill="#00C1A5"/>
<ellipse cx="172.11" cy="170.70" rx="0.74" ry="0.68" fill="#00C1A5"/>
<ellipse cx="189.73" cy="170.70" rx="0.76" ry="0.69" fill="#00C1A5"/>
<ellipse cx="207.34" cy="170.70" rx="0.94" ry="0.87" fill="#00C1A5"/>
<ellipse cx="224.95" cy="170.70" rx="0.74" ry="0.68" fill="#00C1A5"/>
<ellipse cx="242.56" cy="170.70" rx="1.76" ry="1.61" fill="#00C1A5"/>
<ellipse cx="260.18" cy="170.70" rx="3.54" ry="3.25" fill="#00C1A5"/>
<ellipse cx="277.79" cy="170.70" rx="4.68" ry="4.29" fill="#00C1A5"/>
<ellipse cx="295.40" cy="170.70" rx="0.74" ry="0.68" fill="#00C1A5"/>
<ellipse cx="313.02" cy="170.70" rx="0.74" ry="0.68" fill="#00C1A5"/>
<ellipse cx="330.63" cy="170.70" rx="0.74" ry="0.68" fill="#00C1A5"/>
<ellipse cx="348.24" cy="170.70" rx="0.94" ry="0.87" fill="#00C1A5"/>
<ellipse cx="365.86" cy="170.70" rx="2.41" ry="2.21" fill="#00C1A5"/>
<ellipse cx="383.47" cy="170.70" rx="1.22" ry="1.12" fill="#00C1A5"/>
<ellipse cx="401.08" cy="170.70" rx="3.73" ry="3.42" fill="#00C1A5"/>
<ellipse cx="418.69" cy="170.70" rx="1.49" ry="1.36" fill="#00C1A5"/>
<ellipse cx="436.31" cy="170.70" rx="0.74" ry="0.68" fill="#00C1A5"/>
<ellipse cx="453.92" cy="170.70" rx="0.94" ry="0.87" fill="#00C1A5"/>
<ellipse cx="471.53" cy="170.70" rx="1.22" ry="1.12" fill="#00C1A5"/>
<ellipse cx="489.15" cy="170.70" rx="2.79" ry="2.56" fill="#00C1A5"/>
<ellipse cx="506.76" cy="170.70" rx="2.97" ry="2.73" fill="#00C1A5"/>
<ellipse cx="524.37" cy="170.70" rx="0.74" ry="0.68" fill="#00C1A5"/>
<ellipse cx="541.99" cy="170.70" rx="2.60" ry="2.38" fill="#00C1A5"/>
<ellipse cx="559.60" cy="170.70" rx="1.22" ry="1.12" fill="#00C1A5"/>
<ellipse cx="577.21" cy="170.70" rx="1.76" ry="1.61" fill="#00C1A5"/>
<ellipse cx="594.83" cy="170.70" rx="4.30" ry="3.94" fill="#00C1A5"/>
<ellipse cx="612.44" cy="170.70" rx="3.16" ry="2.90" fill="#00C1A5"/>
<ellipse cx="154.50" cy="181.66" rx="0.74" ry="0.68" fill="#00C08D"/>
<ellipse cx="172.11" cy="181.66" rx="0.74" ry="0.68" fill="#00C08D"/>
<ellipse cx="189.73" cy="181.66" rx="0.76" ry="0.69" fill="#00C08D"/>
<ellipse cx="207.34" cy="181.66" rx="1.76" ry="1.61" fill="#00C08D"/>
<ellipse cx="224.95" cy="181.66" rx="0.74" ry="0.68" fill="#00C08D"/>
<ellipse cx="242.56" cy="181.66" rx="0.94" ry="0.87" fill="#00C08D"/>
<ellipse cx="260.18" cy="181.66" rx="0.74" ry="0.68" fill="#00C08D"/>
<ellipse cx="277.79" cy="181.66" rx="4.49" ry="4.12" fill="#00C08D"/>
<ellipse cx="295.40" cy="181.66" rx="0.74" ry="0.68" fill="#00C08D"/>
<ellipse cx="313.02" cy="181.66" rx="0.74" ry="0.68" fill="#00C08D"/>
<ellipse cx="330.63" cy="181.66" rx="0.74" ry="0.68" fill="#00C08D"/>
<ellipse cx="348.24" cy="181.66" rx="0.74" ry="0.68" fill="#00C08D"/>
<ellipse cx="365.86" cy="181.66" rx="0.74" ry="0.68" fill="#00C08D"/>
<ellipse cx="383.47" cy="181.66" rx="0.74" ry="0.68" fill="#00C08D"/>
<ellipse cx="401.08" cy="181.66" rx="0.74" ry="0.68" fill="#00C08D"/>
<ellipse cx="418.69" cy="181.66" rx="0.94" ry="0.87" fill="#00C08D"/>
<ellipse cx="436.31" cy="181.66" rx="0.74" ry="0.68" fill="#00C08D"/>
<ellipse cx="453.92" cy="181.66" rx="0.74" ry="0.68" fill="#00C08D"/>
<ellipse cx="471.53" cy="181.66" rx="0.76" ry="0.69" fill="#00C08D"/>
<ellipse cx="489.15" cy="181.66" rx="0.74" ry="0.68" fill="#00C08D"/>
<ellipse cx="506.76" cy="181.66" rx="0.74" ry="0.68" fill="#00C08D"/>
<ellipse cx="524.37" cy="181.66" rx="3.73" ry="3.42" fill="#00C08D"/>
<ellipse cx="541.99" cy="181.66" rx="2.41" ry="2.21" fill="#00C08D"/>
<ellipse cx="559.60" cy="181.66" rx="1.49" ry="1.36" fill="#00C08D"/>
<ellipse cx="577.21" cy="181.66" rx="3.73" ry="3.42" fill="#00C08D"/>
<ellipse cx="594.83" cy="181.66" rx="0.94" ry="0.87" fill="#00C08D"/>
<ellipse cx="612.44" cy="181.66" rx="3.16" ry="2.90" fill="#00C08D"/>
<ellipse cx="154.50" cy="192.62" rx="0.74" ry="0.68" fill="#00BE72"/>
<ellipse cx="172.11" cy="192.62" rx="0.74" ry="0.68" fill="#00BE72"/>
<ellipse cx="189.73" cy="192.62" rx="0.76" ry="0.69" fill="#00BE72"/>
<ellipse cx="207.34" cy="192.62" rx="0.85" ry="0.78" fill="#00BE72"/>
<ellipse cx="224.95" cy="192.62" rx="0.74" ry="0.68" fill="#00BE72"/>
<ellipse cx="242.56" cy="192.62" rx="1.49" ry="1.36" fill="#00BE72"/>
<ellipse cx="260.18" cy="192.62" rx="0.74" ry="0.68" fill="#00BE72"/>
<ellipse cx="277.79" cy="192.62" rx="4.68" ry="4.29" fill="#00BE72"/>
<ellipse cx="295.40" cy="192.62" rx="0.74" ry="0.68" fill="#00BE72"/>
<ellipse cx="313.02" cy="192.62" rx="0.74" ry="0.68" fill="#00BE72"/>
<ellipse cx="330.63" cy="192.62" rx="0.74" ry="0.68" fill="#00BE72"/>
<ellipse cx="348.24" cy="192.62" rx="0.74" ry="0.68" fill="#00BE72"/>
<ellipse cx="365.86" cy="192.62" rx="0.74" ry="0.68" fill="#00BE72"/>
<ellipse cx="383.47" cy="192.62" rx="0.74" ry="0.68" fill="#00BE72"/>
<ellipse cx="401.08" cy="192.62" rx="0.74" ry="0.68" fill="#00BE72"/>
<ellipse cx="418.69" cy="192.62" rx="1.22" ry="1.12" fill="#00BE72"/>
<ellipse cx="436.31" cy="192.62" rx="0.74" ry="0.68" fill="#00BE72"/>
<ellipse cx="453.92" cy="192.62" rx="0.74" ry="0.68" fill="#00BE72"/>
<ellipse cx="471.53" cy="192.62" rx="2.03" ry="1.86" fill="#00BE72"/>
<ellipse cx="489.15" cy="192.62" rx="0.74" ry="0.68" fill="#00BE72"/>
<ellipse cx="506.76" cy="192.62" rx="0.74" ry="0.68" fill="#00BE72"/>
<ellipse cx="524.37" cy="192.62" rx="3.35" ry="3.08" fill="#00BE72"/>
<ellipse cx="541.99" cy="192.62" rx="3.16" ry="2.90" fill="#00BE72"/>
<ellipse cx="559.60" cy="192.62" rx="2.03" ry="1.86" fill="#00BE72"/>
<ellipse cx="577.21" cy="192.62" rx="3.92" ry="3.60" fill="#00BE72"/>
<ellipse cx="594.83" cy="192.62" rx="1.22" ry="1.12" fill="#00BE72"/>
<ellipse cx="612.44" cy="192.62" rx="3.54" ry="3.25" fill="#00BE72"/>
<ellipse cx="154.50" cy="203.58" rx="0.74" ry="0.68" fill="#00BC53"/>
<ellipse cx="172.11" cy="203.58" rx="0.74" ry="0.68" fill="#00BC53"/>
<ellipse cx="189.73" cy="203.58" rx="1.35" ry="1.24" fill="#00BC53"/>
<ellipse cx="207.34" cy="203.58" rx="1.76" ry="1.61" fill="#00BC53"/>
<ellipse cx="224.95" cy="203.58" rx="0.74" ry="0.68" fill="#00BC53"/>
<ellipse cx="242.56" cy="203.58" rx="2.22" ry="2.03" fill="#00BC53"/>
<ellipse cx="260.18" cy="203.58" rx="0.76" ry="0.69" fill="#00BC53"/>
<ellipse cx="277.79" cy="203.58" rx="5.62" ry="5.16" fill="#00BC53"/>
<ellipse cx="295.40" cy="203.58" rx="0.74" ry="0.68" fill="#00BC53"/>
<ellipse cx="313.02" cy="203.58" rx="0.74" ry="0.68" fill="#00BC53"/>
<ellipse cx="330.63" cy="203.58" rx="0.74" ry="0.68" fill="#00BC53"/>
<ellipse cx="348.24" cy="203.58" rx="0.74" ry="0.68" fill="#00BC53"/>
<ellipse cx="365.86" cy="203.58" rx="0.74" ry="0.68" fill="#00BC53"/>
<ellipse cx="383.47" cy="203.58" rx="0.74" ry="0.68" fill="#00BC53"/>
<ellipse cx="401.08" cy="203.58" rx="0.74" ry="0.68" fill="#00BC53"/>
<ellipse cx="418.69" cy="203.58" rx="1.76" ry="1.61" fill="#00BC53"/>
<ellipse cx="436.31" cy="203.58" rx="0.74" ry="0.68" fill="#00BC53"/>
<ellipse cx="453.92" cy="203.58" rx="0.74" ry="0.68" fill="#00BC53"/>
<ellipse cx="471.53" cy="203.58" rx="2.03" ry="1.86" fill="#00BC53"/>
<ellipse cx="489.15" cy="203.58" rx="0.74" ry="0.68" fill="#00BC53"/>
<ellipse cx="506.76" cy="203.58" rx="1.49" ry="1.36" fill="#00BC53"/>
<ellipse cx="524.37" cy="203.58" rx="3.73" ry="3.42" fill="#00BC53"/>
<ellipse cx="541.99" cy="203.58" rx="2.41" ry="2.21" fill="#00BC53"/>
<ellipse cx="559.60" cy="203.58" rx="2.97" ry="2.73" fill="#00BC53"/>
<ellipse cx="577.21" cy="203.58" rx="4.30" ry="3.94" fill="#00BC53"/>
<ellipse cx="594.83" cy="203.58" rx="2.97" ry="2.73" fill="#00BC53"/>
<ellipse cx="612.44" cy="203.58" rx="3.35" ry="3.08" fill="#00BC53"/>
<ellipse cx="154.50" cy="214.54" rx="0.74" ry="0.68" fill="#00B825"/>
<ellipse cx="172.11" cy="214.54" rx="0.74" ry="0.68" fill="#00B825"/>
<ellipse cx="189.73" cy="214.54" rx="0.94" ry="0.87" fill="#00B825"/>
<ellipse cx="207.34" cy="214.54" rx="1.62" ry="1.49" fill="#00B825"/>
<ellipse cx="224.95" cy="214.54" rx="0.94" ry="0.87" fill="#00B825"/>
<ellipse cx="242.56" cy="214.54" rx="2.03" ry="1.86" fill="#00B825"/>
<ellipse cx="260.18" cy="214.54" rx="0.74" ry="0.68" fill="#00B825"/>
<ellipse cx="277.79" cy="214.54" rx="5.06" ry="4.64" fill="#00B825"/>
<ellipse cx="295.40" cy="214.54" rx="0.74" ry="0.68" fill="#00B825"/>
<ellipse cx="313.02" cy="214.54" rx="0.74" ry="0.68" fill="#00B825"/>
<ellipse cx="330.63" cy="214.54" rx="0.74" ry="0.68" fill="#00B825"/>
<ellipse cx="348.24" cy="214.54" rx="0.74" ry="0.68" fill="#00B825"/>
<ellipse cx="365.86" cy="214.54" rx="0.74" ry="0.68" fill="#00B825"/>
<ellipse cx="383.47" cy="214.54" rx="0.74" ry="0.68" fill="#00B825"/>
<ellipse cx="401.08" cy="214.54" rx="0.74" ry="0.68" fill="#00B825"/>
<ellipse cx="418.69" cy="214.54" rx="3.35" ry="3.08" fill="#00B825"/>
<ellipse cx="436.31" cy="214.54" rx="0.74" ry="0.68" fill="#00B825"/>
<ellipse cx="453.92" cy="214.54" rx="0.74" ry="0.68" fill="#00B825"/>
<ellipse cx="471.53" cy="214.54" rx="1.76" ry="1.61" fill="#00B825"/>
<ellipse cx="489.15" cy="214.54" rx="0.74" ry="0.68" fill="#00B825"/>
<ellipse cx="506.76" cy="214.54" rx="0.76" ry="0.69" fill="#00B825"/>
<ellipse cx="524.37" cy="214.54" rx="2.97" ry="2.73" fill="#00B825"/>
<ellipse cx="541.99" cy="214.54" rx="2.03" ry="1.86" fill="#00B825"/>
<ellipse cx="559.60" cy="214.54" rx="2.97" ry="2.73" fill="#00B825"/>
<ellipse cx="577.21" cy="214.54" rx="3.35" ry="3.08" fill="#00B825"/>
<ellipse cx="594.83" cy="214.54" rx="3.16" ry="2.90" fill="#00B825"/>
<ellipse cx="612.44" cy="214.54" rx="3.16" ry="2.90" fill="#00B825"/>
<ellipse cx="154.50" cy="225.50" rx="0.74" ry="0.68" fill="#4CB400"/>
<ellipse cx="172.11" cy="225.50" rx="0.74" ry="0.68" fill="#4CB400"/>
<ellipse cx="189.73" cy="225.50" rx="0.74" ry="0.68" fill="#4CB400"/>
<ellipse cx="207.34" cy="225.50" rx="1.49" ry="1.36" fill="#4CB400"/>
<ellipse cx="224.95" cy="225.50" rx="0.94" ry="0.87" fill="#4CB400"/>
<ellipse cx="242.56" cy="225.50" rx="1.76" ry="1.61" fill="#4CB400"/>
<ellipse cx="260.18" cy="225.50" rx="5.15" ry="4.73" fill="#4CB400"/>
<ellipse cx="277.79" cy="225.50" rx="4.49" ry="4.12" fill="#4CB400"/>
<ellipse cx="295.40" cy="225.50" rx="0.74" ry="0.68" fill="#4CB400"/>
<ellipse cx="313.02" cy="225.50" rx="0.74" ry="0.68" fill="#4CB400"/>
<ellipse cx="330.63" cy="225.50" rx="0.74" ry="0.68" fill="#4CB400"/>
<ellipse cx="348.24" cy="225.50" rx="0.94" ry="0.87" fill="#4CB400"/>
<ellipse cx="365.86" cy="225.50" rx="0.74" ry="0.68" fill="#4CB400"/>
<ellipse cx="383.47" cy="225.50" rx="0.74" ry="0.68" fill="#4CB400"/>
<ellipse cx="401.08" cy="225.50" rx="0.74" ry="0.68" fill="#4CB400"/>
<ellipse cx="418.69" cy="225.50" rx="2.22" ry="2.03" fill="#4CB400"/>
<ellipse cx="436.31" cy="225.50" rx="4.68" ry="4.29" fill="#4CB400"/>
<ellipse cx="453.92" cy="225.50" rx="4.30" ry="3.94" fill="#4CB400"/>
<ellipse cx="471.53" cy="225.50" rx="2.22" ry="2.03" fill="#4CB400"/>
<ellipse cx="489.15" cy="225.50" rx="0.74" ry="0.68" fill="#4CB400"/>
<ellipse cx="506.76" cy="225.50" rx="5.81" ry="5.33" fill="#4CB400"/>
<ellipse cx="524.37" cy="225.50" rx="0.94" ry="0.87" fill="#4CB400"/>
<ellipse cx="541.99" cy="225.50" rx="1.22" ry="1.12" fill="#4CB400"/>
<ellipse cx="559.60" cy="225.50" rx="2.97" ry="2.73" fill="#4CB400"/>
<ellipse cx="577.21" cy="225.50" rx="3.54" ry="3.25" fill="#4CB400"/>
<ellipse cx="594.83" cy="225.50" rx="4.30" ry="3.94" fill="#4CB400"/>
<ellipse cx="612.44" cy="225.50" rx="4.30" ry="3.94" fill="#4CB400"/>
<ellipse cx="154.50" cy="236.46" rx="0.94" ry="0.87" fill="#74B000"/>
<ellipse cx="172.11" cy="236.46" rx="0.74" ry="0.68" fill="#74B000"/>
<ellipse cx="189.73" cy="236.46" rx="0.94" ry="0.87" fill="#74B000"/>
<ellipse cx="207.34" cy="236.46" rx="2.03" ry="1.86" fill="#74B000"/>
<ellipse cx="224.95" cy="236.46" rx="0.94" ry="0.87" fill="#74B000"/>
<ellipse cx="242.56" cy="236.46" rx="2.41" ry="2.21" fill="#74B000"/>
<ellipse cx="260.18" cy="236.46" rx="3.73" ry="3.42" fill="#74B000"/>
<ellipse cx="277.79" cy="236.46" rx="4.87" ry="4.47" fill="#74B000"/>
<ellipse cx="295.40" cy="236.46" rx="0.74" ry="0.68" fill="#74B000"/>
<ellipse cx="313.02" cy="236.46" rx="0.74" ry="0.68" fill="#74B000"/>
<ellipse cx="330.63" cy="236.46" rx="2.97" ry="2.73" fill="#74B000"/>
<ellipse cx="348.24" cy="236.46" rx="1.49" ry="1.36" fill="#74B000"/>
<ellipse cx="365.86" cy="236.46" rx="0.74" ry="0.68" fill="#74B000"/>
<ellipse cx="383.47" cy="236.46" rx="0.74" ry="0.68" fill="#74B000"/>
<ellipse cx="401.08" cy="236.46" rx="0.74" ry="0.68" fill="#74B000"/>
<ellipse cx="418.69" cy="236.46" rx="1.76" ry="1.61" fill="#74B000"/>
<ellipse cx="436.31" cy="236.46" rx="5.62" ry="5.16" fill="#74B000"/>
<ellipse cx="453.92" cy="236.46" rx="0.94" ry="0.87" fill="#74B000"/>
<ellipse cx="471.53" cy="236.46" rx="2.79" ry="2.56" fill="#74B000"/>
<ellipse cx="489.15" cy="236.46" rx="5.25" ry="4.81" fill="#74B000"/>
<ellipse cx="506.76" cy="236.46" rx="0.74" ry="0.68" fill="#74B000"/>
<ellipse cx="524.37" cy="236.46" rx="2.41" ry="2.21" fill="#74B000"/>
<ellipse cx="541.99" cy="236.46" rx="2.03" ry="1.86" fill="#74B000"/>
<ellipse cx="559.60" cy="236.46" rx="2.60" ry="2.38" fill="#74B000"/>
<ellipse cx="577.21" cy="236.46" rx="3.35" ry="3.08" fill="#74B000"/>
<ellipse cx="594.83" cy="236.46" rx="4.30" ry="3.94" fill="#74B000"/>
<ellipse cx="612.44" cy="236.46" rx="3.92" ry="3.60" fill="#74B000"/>
<ellipse cx="154.50" cy="247.42" rx="0.74" ry="0.68" fill="#90AA00"/>
<ellipse cx="172.11" cy="247.42" rx="1.49" ry="1.36" fill="#90AA00"/>
<ellipse cx="189.73" cy="247.42" rx="1.22" ry="1.12" fill="#90AA00"/>
<ellipse cx="207.34" cy="247.42" rx="2.22" ry="2.03" fill="#90AA00"/>
<ellipse cx="224.95" cy="247.42" rx="0.85" ry="0.78" fill="#90AA00"/>
<ellipse cx="242.56" cy="247.42" rx="2.41" ry="2.21" fill="#90AA00"/>
<ellipse cx="260.18" cy="247.42" rx="2.79" ry="2.56" fill="#90AA00"/>
<ellipse cx="277.79" cy="247.42" rx="5.43" ry="4.99" fill="#90AA00"/>
<ellipse cx="295.40" cy="247.42" rx="0.74" ry="0.68" fill="#90AA00"/>
<ellipse cx="313.02" cy="247.42" rx="0.74" ry="0.68" fill="#90AA00"/>
<ellipse cx="330.63" cy="247.42" rx="0.74" ry="0.68" fill="#90AA00"/>
<ellipse cx="348.24" cy="247.42" rx="0.74" ry="0.68" fill="#90AA00"/>
<ellipse cx="365.86" cy="247.42" rx="1.76" ry="1.61" fill="#90AA00"/>
<ellipse cx="383.47" cy="247.42" rx="0.94" ry="0.87" fill="#90AA00"/>
<ellipse cx="401.08" cy="247.42" rx="2.03" ry="1.86" fill="#90AA00"/>
<ellipse cx="418.69" cy="247.42" rx="2.97" ry="2.73" fill="#90AA00"/>
<ellipse cx="436.31" cy="247.42" rx="0.74" ry="0.68" fill="#90AA00"/>
<ellipse cx="453.92" cy="247.42" rx="2.97" ry="2.73" fill="#90AA00"/>
<ellipse cx="471.53" cy="247.42" rx="2.97" ry="2.73" fill="#90AA00"/>
<ellipse cx="489.15" cy="247.42" rx="2.03" ry="1.86" fill="#90AA00"/>
<ellipse cx="506.76" cy="247.42" rx="4.87" ry="4.47" fill="#90AA00"/>
<ellipse cx="524.37" cy="247.42" rx="0.76" ry="0.69" fill="#90AA00"/>
<ellipse cx="541.99" cy="247.42" rx="3.35" ry="3.08" fill="#90AA00"/>
<ellipse cx="559.60" cy="247.42" rx="3.35" ry="3.08" fill="#90AA00"/>
<ellipse cx="577.21" cy="247.42" rx="4.30" ry="3.94" fill="#90AA00"/>
<ellipse cx="594.83" cy="247.42" rx="3.92" ry="3.60" fill="#90AA00"/>
<ellipse cx="612.44" cy="247.42" rx="3.54" ry="3.25" fill="#90AA00"/>
<ellipse cx="154.50" cy="258.38" rx="0.74" ry="0.68" fill="#A7A400"/>
<ellipse cx="172.11" cy="258.38" rx="0.74" ry="0.68" fill="#A7A400"/>
<ellipse cx="189.73" cy="258.38" rx="0.74" ry="0.68" fill="#A7A400"/>
<ellipse cx="207.34" cy="258.38" rx="0.74" ry="0.68" fill="#A7A400"/>
<ellipse cx="224.95" cy="258.38" rx="2.41" ry="2.21" fill="#A7A400"/>
<ellipse cx="242.56" cy="258.38" rx="1.22" ry="1.12" fill="#A7A400"/>
<ellipse cx="260.18" cy="258.38" rx="0.76" ry="0.69" fill="#A7A400"/>
<ellipse cx="277.79" cy="258.38" rx="3.54" ry="3.25" fill="#A7A400"/>
<ellipse cx="295.40" cy="258.38" rx="0.74" ry="0.68" fill="#A7A400"/>
<ellipse cx="313.02" cy="258.38" rx="0.74" ry="0.68" fill="#A7A400"/>
<ellipse cx="330.63" cy="258.38" rx="0.74" ry="0.68" fill="#A7A400"/>
<ellipse cx="348.24" cy="258.38" rx="0.74" ry="0.68" fill="#A7A400"/>
<ellipse cx="365.86" cy="258.38" rx="0.74" ry="0.68" fill="#A7A400"/>
<ellipse cx="383.47" cy="258.38" rx="1.49" ry="1.36" fill="#A7A400"/>
<ellipse cx="401.08" cy="258.38" rx="0.74" ry="0.68" fill="#A7A400"/>
<ellipse cx="418.69" cy="258.38" rx="1.76" ry="1.61" fill="#A7A400"/>
<ellipse cx="436.31" cy="258.38" rx="0.74" ry="0.68" fill="#A7A400"/>
<ellipse cx="453.92" cy="258.38" rx="0.74" ry="0.68" fill="#A7A400"/>
<ellipse cx="471.53" cy="258.38" rx="1.49" ry="1.36" fill="#A7A400"/>
<ellipse cx="489.15" cy="258.38" rx="0.74" ry="0.68" fill="#A7A400"/>
<ellipse cx="506.76" cy="258.38" rx="0.74" ry="0.68" fill="#A7A400"/>
<ellipse cx="524.37" cy="258.38" rx="3.73" ry="3.42" fill="#A7A400"/>
<ellipse cx="541.99" cy="258.38" rx="2.22" ry="2.03" fill="#A7A400"/>
<ellipse cx="559.60" cy="258.38" rx="1.76" ry="1.61" fill="#A7A400"/>
<ellipse cx="577.21" cy="258.38" rx="2.03" ry="1.86" fill="#A7A400"/>
<ellipse cx="594.83" cy="258.38" rx="0.94" ry="0.87" fill="#A7A400"/>
<ellipse cx="612.44" cy="258.38" rx="1.22" ry="1.12" fill="#A7A400"/>
<ellipse cx="154.50" cy="269.34" rx="0.74" ry="0.68" fill="#BA9E00"/>
<ellipse cx="172.11" cy="269.34" rx="0.74" ry="0.68" fill="#BA9E00"/>
<ellipse cx="189.73" cy="269.34" rx="0.94" ry="0.87" fill="#BA9E00"/>
<ellipse cx="207.34" cy="269.34" rx="0.94" ry="0.87" fill="#BA9E00"/>
<ellipse cx="224.95" cy="269.34" rx="0.74" ry="0.68" fill="#BA9E00"/>
<ellipse cx="242.56" cy="269.34" rx="2.03" ry="1.86" fill="#BA9E00"/>
<ellipse cx="260.18" cy="269.34" rx="0.74" ry="0.68" fill="#BA9E00"/>
<ellipse cx="277.79" cy="269.34" rx="4.49" ry="4.12" fill="#BA9E00"/>
<ellipse cx="295.40" cy="269.34" rx="0.74" ry="0.68" fill="#BA9E00"/>
<ellipse cx="313.02" cy="269.34" rx="0.74" ry="0.68" fill="#BA9E00"/>
<ellipse cx="330.63" cy="269.34" rx="0.74" ry="0.68" fill="#BA9E00"/>
<ellipse cx="348.24" cy="269.34" rx="0.74" ry="0.68" fill="#BA9E00"/>
<ellipse cx="365.86" cy="269.34" rx="0.74" ry="0.68" fill="#BA9E00"/>
<ellipse cx="383.47" cy="269.34" rx="0.74" ry="0.68" fill="#BA9E00"/>
<ellipse cx="401.08" cy="269.34" rx="0.74" ry="0.68" fill="#BA9E00"/>
<ellipse cx="418.69" cy="269.34" rx="1.76" ry="1.61" fill="#BA9E00"/>
<ellipse cx="436.31" cy="269.34" rx="0.74" ry="0.68" fill="#BA9E00"/>
<ellipse cx="453.92" cy="269.34" rx="0.74" ry="0.68" fill="#BA9E00"/>
<ellipse cx="471.53" cy="269.34" rx="2.03" ry="1.86" fill="#BA9E00"/>
<ellipse cx="489.15" cy="269.34" rx="0.74" ry="0.68" fill="#BA9E00"/>
<ellipse cx="506.76" cy="269.34" rx="1.49" ry="1.36" fill="#BA9E00"/>
<ellipse cx="524.37" cy="269.34" rx="0.76" ry="0.69" fill="#BA9E00"/>
<ellipse cx="541.99" cy="269.34" rx="1.76" ry="1.61" fill="#BA9E00"/>
<ellipse cx="559.60" cy="269.34" rx="2.79" ry="2.56" fill="#BA9E00"/>
<ellipse cx="577.21" cy="269.34" rx="3.54" ry="3.25" fill="#BA9E00"/>
<ellipse cx="594.83" cy="269.34" rx="2.41" ry="2.21" fill="#BA9E00"/>
<ellipse cx="612.44" cy="269.34" rx="3.16" ry="2.90" fill="#BA9E00"/>
<ellipse cx="154.50" cy="280.30" rx="0.74" ry="0.68" fill="#CB9700"/>
<ellipse cx="172.11" cy="280.30" rx="0.74" ry="0.68" fill="#CB9700"/>
<ellipse cx="189.73" cy="280.30" rx="1.76" ry="1.61" fill="#CB9700"/>
<ellipse cx="207.34" cy="280.30" rx="2.22" ry="2.03" fill="#CB9700"/>
<ellipse cx="224.95" cy="280.30" rx="0.74" ry="0.68" fill="#CB9700"/>
<ellipse cx="242.56" cy="280.30" rx="2.60" ry="2.38" fill="#CB9700"/>
<ellipse cx="260.18" cy="280.30" rx="0.74" ry="0.68" fill="#CB9700"/>
<ellipse cx="277.79" cy="280.30" rx="5.43" ry="4.99" fill="#CB9700"/>
<ellipse cx="295.40" cy="280.30" rx="0.74" ry="0.68" fill="#CB9700"/>
<ellipse cx="313.02" cy="280.30" rx="0.74" ry="0.68" fill="#CB9700"/>
<ellipse cx="330.63" cy="280.30" rx="0.74" ry="0.68" fill="#CB9700"/>
<ellipse cx="348.24" cy="280.30" rx="0.74" ry="0.68" fill="#CB9700"/>
<ellipse cx="365.86" cy="280.30" rx="0.74" ry="0.68" fill="#CB9700"/>
<ellipse cx="383.47" cy="280.30" rx="0.74" ry="0.68" fill="#CB9700"/>
<ellipse cx="401.08" cy="280.30" rx="0.74" ry="0.68" fill="#CB9700"/>
<ellipse cx="418.69" cy="280.30" rx="2.22" ry="2.03" fill="#CB9700"/>
<ellipse cx="436.31" cy="280.30" rx="0.74" ry="0.68" fill="#CB9700"/>
<ellipse cx="453.92" cy="280.30" rx="0.74" ry="0.68" fill="#CB9700"/>
<ellipse cx="471.53" cy="280.30" rx="2.60" ry="2.38" fill="#CB9700"/>
<ellipse cx="489.15" cy="280.30" rx="0.74" ry="0.68" fill="#CB9700"/>
<ellipse cx="506.76" cy="280.30" rx="1.49" ry="1.36" fill="#CB9700"/>
<ellipse cx="524.37" cy="280.30" rx="1.76" ry="1.61" fill="#CB9700"/>
<ellipse cx="541.99" cy="280.30" rx="2.03" ry="1.86" fill="#CB9700"/>
<ellipse cx="559.60" cy="280.30" rx="2.60" ry="2.38" fill="#CB9700"/>
<ellipse cx="577.21" cy="280.30" rx="3.92" ry="3.60" fill="#CB9700"/>
<ellipse cx="594.83" cy="280.30" rx="2.60" ry="2.38" fill="#CB9700"/>
<ellipse cx="612.44" cy="280.30" rx="3.54" ry="3.25" fill="#CB9700"/>
<ellipse cx="154.50" cy="291.26" rx="0.74" ry="0.68" fill="#D98F00"/>
<ellipse cx="172.11" cy="291.26" rx="0.74" ry="0.68" fill="#D98F00"/>
<ellipse cx="189.73" cy="291.26" rx="1.49" ry="1.36" fill="#D98F00"/>
<ellipse cx="207.34" cy="291.26" rx="1.35" ry="1.24" fill="#D98F00"/>
<ellipse cx="224.95" cy="291.26" rx="0.74" ry="0.68" fill="#D98F00"/>
<ellipse cx="242.56" cy="291.26" rx="2.41" ry="2.21" fill="#D98F00"/>
<ellipse cx="260.18" cy="291.26" rx="0.74" ry="0.68" fill="#D98F00"/>
<ellipse cx="277.79" cy="291.26" rx="5.06" ry="4.64" fill="#D98F00"/>
<ellipse cx="295.40" cy="291.26" rx="0.74" ry="0.68" fill="#D98F00"/>
<ellipse cx="313.02" cy="291.26" rx="0.74" ry="0.68" fill="#D98F00"/>
<ellipse cx="330.63" cy="291.26" rx="0.74" ry="0.68" fill="#D98F00"/>
<ellipse cx="348.24" cy="291.26" rx="0.74" ry="0.68" fill="#D98F00"/>
<ellipse cx="365.86" cy="291.26" rx="0.74" ry="0.68" fill="#D98F00"/>
<ellipse cx="383.47" cy="291.26" rx="0.74" ry="0.68" fill="#D98F00"/>
<ellipse cx="401.08" cy="291.26" rx="0.74" ry="0.68" fill="#D98F00"/>
<ellipse cx="418.69" cy="291.26" rx="2.60" ry="2.38" fill="#D98F00"/>
<ellipse cx="436.31" cy="291.26" rx="0.74" ry="0.68" fill="#D98F00"/>
<ellipse cx="453.92" cy="291.26" rx="0.74" ry="0.68" fill="#D98F00"/>
<ellipse cx="471.53" cy="291.26" rx="2.41" ry="2.21" fill="#D98F00"/>
<ellipse cx="489.15" cy="291.26" rx="0.74" ry="0.68" fill="#D98F00"/>
<ellipse cx="506.76" cy="291.26" rx="1.49" ry="1.36" fill="#D98F00"/>
<ellipse cx="524.37" cy="291.26" rx="1.76" ry="1.61" fill="#D98F00"/>
<ellipse cx="541.99" cy="291.26" rx="1.49" ry="1.36" fill="#D98F00"/>
<ellipse cx="559.60" cy="291.26" rx="2.60" ry="2.38" fill="#D98F00"/>
<ellipse cx="577.21" cy="291.26" rx="3.92" ry="3.60" fill="#D98F00"/>
<ellipse cx="594.83" cy="291.26" rx="2.60" ry="2.38" fill="#D98F00"/>
<ellipse cx="612.44" cy="291.26" rx="3.54" ry="3.25" fill="#D98F00"/>
<ellipse cx="154.50" cy="302.22" rx="0.74" ry="0.68" fill="#E58709"/>
<ellipse cx="172.11" cy="302.22" rx="0.74" ry="0.68" fill="#E58709"/>
<ellipse cx="189.73" cy="302.22" rx="1.49" ry="1.36" fill="#E58709"/>
<ellipse cx="207.34" cy="302.22" rx="0.94" ry="0.87" fill="#E58709"/>
<ellipse cx="224.95" cy="302.22" rx="1.76" ry="1.61" fill="#E58709"/>
<ellipse cx="242.56" cy="302.22" rx="2.22" ry="2.03" fill="#E58709"/>
<ellipse cx="260.18" cy="302.22" rx="2.79" ry="2.56" fill="#E58709"/>
<ellipse cx="277.79" cy="302.22" rx="5.06" ry="4.64" fill="#E58709"/>
<ellipse cx="295.40" cy="302.22" rx="0.74" ry="0.68" fill="#E58709"/>
<ellipse cx="313.02" cy="302.22" rx="0.74" ry="0.68" fill="#E58709"/>
<ellipse cx="330.63" cy="302.22" rx="0.74" ry="0.68" fill="#E58709"/>
<ellipse cx="348.24" cy="302.22" rx="0.74" ry="0.68" fill="#E58709"/>
<ellipse cx="365.86" cy="302.22" rx="0.74" ry="0.68" fill="#E58709"/>
<ellipse cx="383.47" cy="302.22" rx="0.74" ry="0.68" fill="#E58709"/>
<ellipse cx="401.08" cy="302.22" rx="0.74" ry="0.68" fill="#E58709"/>
<ellipse cx="418.69" cy="302.22" rx="1.22" ry="1.12" fill="#E58709"/>
<ellipse cx="436.31" cy="302.22" rx="0.74" ry="0.68" fill="#E58709"/>
<ellipse cx="453.92" cy="302.22" rx="0.74" ry="0.68" fill="#E58709"/>
<ellipse cx="471.53" cy="302.22" rx="1.22" ry="1.12" fill="#E58709"/>
<ellipse cx="489.15" cy="302.22" rx="2.41" ry="2.21" fill="#E58709"/>
<ellipse cx="506.76" cy="302.22" rx="0.94" ry="0.87" fill="#E58709"/>
<ellipse cx="524.37" cy="302.22" rx="2.97" ry="2.73" fill="#E58709"/>
<ellipse cx="541.99" cy="302.22" rx="2.79" ry="2.56" fill="#E58709"/>
<ellipse cx="559.60" cy="302.22" rx="2.60" ry="2.38" fill="#E58709"/>
<ellipse cx="577.21" cy="302.22" rx="2.03" ry="1.86" fill="#E58709"/>
<ellipse cx="594.83" cy="302.22" rx="1.76" ry="1.61" fill="#E58709"/>
<ellipse cx="612.44" cy="302.22" rx="1.76" ry="1.61" fill="#E58709"/>
<ellipse cx="154.50" cy="313.18" rx="0.74" ry="0.68" fill="#F07F4B"/>
<ellipse cx="172.11" cy="313.18" rx="1.22" ry="1.12" fill="#F07F4B"/>
<ellipse cx="189.73" cy="313.18" rx="1.76" ry="1.61" fill="#F07F4B"/>
<ellipse cx="207.34" cy="313.18" rx="2.03" ry="1.86" fill="#F07F4B"/>
<ellipse cx="224.95" cy="313.18" rx="0.74" ry="0.68" fill="#F07F4B"/>
<ellipse cx="242.56" cy="313.18" rx="2.41" ry="2.21" fill="#F07F4B"/>
<ellipse cx="260.18" cy="313.18" rx="0.74" ry="0.68" fill="#F07F4B"/>
<ellipse cx="277.79" cy="313.18" rx="5.25" ry="4.81" fill="#F07F4B"/>
<ellipse cx="295.40" cy="313.18" rx="0.74" ry="0.68" fill="#F07F4B"/>
<ellipse cx="313.02" cy="313.18" rx="0.74" ry="0.68" fill="#F07F4B"/>
<ellipse cx="330.63" cy="313.18" rx="0.74" ry="0.68" fill="#F07F4B"/>
<ellipse cx="348.24" cy="313.18" rx="2.22" ry="2.03" fill="#F07F4B"/>
<ellipse cx="365.86" cy="313.18" rx="0.74" ry="0.68" fill="#F07F4B"/>
<ellipse cx="383.47" cy="313.18" rx="0.74" ry="0.68" fill="#F07F4B"/>
<ellipse cx="401.08" cy="313.18" rx="0.74" ry="0.68" fill="#F07F4B"/>
<ellipse cx="418.69" cy="313.18" rx="2.22" ry="2.03" fill="#F07F4B"/>
<ellipse cx="436.31" cy="313.18" rx="0.74" ry="0.68" fill="#F07F4B"/>
<ellipse cx="453.92" cy="313.18" rx="0.74" ry="0.68" fill="#F07F4B"/>
<ellipse cx="471.53" cy="313.18" rx="2.79" ry="2.56" fill="#F07F4B"/>
<ellipse cx="489.15" cy="313.18" rx="0.74" ry="0.68" fill="#F07F4B"/>
<ellipse cx="506.76" cy="313.18" rx="0.94" ry="0.87" fill="#F07F4B"/>
<ellipse cx="524.37" cy="313.18" rx="1.22" ry="1.12" fill="#F07F4B"/>
<ellipse cx="541.99" cy="313.18" rx="3.54" ry="3.25" fill="#F07F4B"/>
<ellipse cx="559.60" cy="313.18" rx="2.97" ry="2.73" fill="#F07F4B"/>
<ellipse cx="577.21" cy="313.18" rx="3.92" ry="3.60" fill="#F07F4B"/>
<ellipse cx="594.83" cy="313.18" rx="1.76" ry="1.61" fill="#F07F4B"/>
<ellipse cx="612.44" cy="313.18" rx="2.41" ry="2.21" fill="#F07F4B"/>
<ellipse cx="154.50" cy="324.14" rx="0.74" ry="0.68" fill="#F8766D"/>
<ellipse cx="172.11" cy="324.14" rx="1.49" ry="1.36" fill="#F8766D"/>
<ellipse cx="189.73" cy="324.14" rx="1.49" ry="1.36" fill="#F8766D"/>
<ellipse cx="207.34" cy="324.14" rx="1.76" ry="1.61" fill="#F8766D"/>
<ellipse cx="224.95" cy="324.14" rx="0.74" ry="0.68" fill="#F8766D"/>
<ellipse cx="242.56" cy="324.14" rx="2.22" ry="2.03" fill="#F8766D"/>
<ellipse cx="260.18" cy="324.14" rx="0.74" ry="0.68" fill="#F8766D"/>
<ellipse cx="277.79" cy="324.14" rx="5.62" ry="5.16" fill="#F8766D"/>
<ellipse cx="295.40" cy="324.14" rx="0.74" ry="0.68" fill="#F8766D"/>
<ellipse cx="313.02" cy="324.14" rx="0.74" ry="0.68" fill="#F8766D"/>
<ellipse cx="330.63" cy="324.14" rx="0.74" ry="0.68" fill="#F8766D"/>
<ellipse cx="348.24" cy="324.14" rx="0.74" ry="0.68" fill="#F8766D"/>
<ellipse cx="365.86" cy="324.14" rx="0.74" ry="0.68" fill="#F8766D"/>
<ellipse cx="383.47" cy="324.14" rx="0.74" ry="0.68" fill="#F8766D"/>
<ellipse cx="401.08" cy="324.14" rx="0.74" ry="0.68" fill="#F8766D"/>
<ellipse cx="418.69" cy="324.14" rx="2.22" ry="2.03" fill="#F8766D"/>
<ellipse cx="436.31" cy="324.14" rx="0.74" ry="0.68" fill="#F8766D"/>
<ellipse cx="453.92" cy="324.14" rx="0.74" ry="0.68" fill="#F8766D"/>
<ellipse cx="471.53" cy="324.14" rx="2.97" ry="2.73" fill="#F8766D"/>
<ellipse cx="489.15" cy="324.14" rx="0.74" ry="0.68" fill="#F8766D"/>
<ellipse cx="506.76" cy="324.14" rx="1.49" ry="1.36" fill="#F8766D"/>
<ellipse cx="524.37" cy="324.14" rx="0.74" ry="0.68" fill="#F8766D"/>
<ellipse cx="541.99" cy="324.14" rx="3.54" ry="3.25" fill="#F8766D"/>
<ellipse cx="559.60" cy="324.14" rx="3.16" ry="2.90" fill="#F8766D"/>
<ellipse cx="577.21" cy="324.14" rx="4.11" ry="3.77" fill="#F8766D"/>
<ellipse cx="594.83" cy="324.14" rx="1.76" ry="1.61" fill="#F8766D"/>
<ellipse cx="612.44" cy="324.14" rx="2.41" ry="2.21" fill="#F8766D"/>
<ellipse cx="154.50" cy="335.10" rx="2.03" ry="1.86" fill="#FE6E89"/>
<ellipse cx="172.11" cy="335.10" rx="1.76" ry="1.61" fill="#FE6E89"/>
<ellipse cx="189.73" cy="335.10" rx="3.16" ry="2.90" fill="#FE6E89"/>
<ellipse cx="207.34" cy="335.10" rx="3.16" ry="2.90" fill="#FE6E89"/>
<ellipse cx="224.95" cy="335.10" rx="2.41" ry="2.21" fill="#FE6E89"/>
<ellipse cx="242.56" cy="335.10" rx="5.34" ry="4.90" fill="#FE6E89"/>
<ellipse cx="260.18" cy="335.10" rx="0.74" ry="0.68" fill="#FE6E89"/>
<ellipse cx="277.79" cy="335.10" rx="5.25" ry="4.81" fill="#FE6E89"/>
<ellipse cx="295.40" cy="335.10" rx="0.74" ry="0.68" fill="#FE6E89"/>
<ellipse cx="313.02" cy="335.10" rx="0.74" ry="0.68" fill="#FE6E89"/>
<ellipse cx="330.63" cy="335.10" rx="0.74" ry="0.68" fill="#FE6E89"/>
<ellipse cx="348.24" cy="335.10" rx="0.74" ry="0.68" fill="#FE6E89"/>
<ellipse cx="365.86" cy="335.10" rx="0.74" ry="0.68" fill="#FE6E89"/>
<ellipse cx="383.47" cy="335.10" rx="0.74" ry="0.68" fill="#FE6E89"/>
<ellipse cx="401.08" cy="335.10" rx="0.74" ry="0.68" fill="#FE6E89"/>
<ellipse cx="418.69" cy="335.10" rx="0.74" ry="0.68" fill="#FE6E89"/>
<ellipse cx="436.31" cy="335.10" rx="0.74" ry="0.68" fill="#FE6E89"/>
<ellipse cx="453.92" cy="335.10" rx="0.74" ry="0.68" fill="#FE6E89"/>
<ellipse cx="471.53" cy="335.10" rx="0.74" ry="0.68" fill="#FE6E89"/>
<ellipse cx="489.15" cy="335.10" rx="0.74" ry="0.68" fill="#FE6E89"/>
<ellipse cx="506.76" cy="335.10" rx="0.76" ry="0.69" fill="#FE6E89"/>
<ellipse cx="524.37" cy="335.10" rx="0.74" ry="0.68" fill="#FE6E89"/>
<ellipse cx="541.99" cy="335.10" rx="0.74" ry="0.68" fill="#FE6E89"/>
<ellipse cx="559.60" cy="335.10" rx="0.74" ry="0.68" fill="#FE6E89"/>
<ellipse cx="577.21" cy="335.10" rx="0.74" ry="0.68" fill="#FE6E89"/>
<ellipse cx="594.83" cy="335.10" rx="0.94" ry="0.87" fill="#FE6E89"/>
<ellipse cx="612.44" cy="335.10" rx="0.94" ry="0.87" fill="#FE6E89"/>
<rect x="143.5" y="0.5" width="479.1" height="341.1" fill="none" stroke="#dadada" stroke-width="1"/>
<path d="M141 6.30H143.5M141 17.26H143.5M141 28.22H143.5M141 39.18H143.5M141 50.14H143.5M141 61.10H143.5M141 72.06H143.5M141 83.02H143.5M141 93.98H143.5M141 104.94H143.5M141 115.90H143.5M141 126.86H143.5M141 137.82H143.5M141 148.78H143.5M141 159.74H143.5M141 170.70H143.5M141 181.66H143.5M141 192.62H143.5M141 203.58H143.5M141 214.54H143.5M141 225.50H143.5M141 236.46H143.5M141 247.42H143.5M141 258.38H143.5M141 269.34H143.5M141 280.30H143.5M141 291.26H143.5M141 302.22H143.5M141 313.18H143.5M141 324.14H143.5M141 335.10H143.5M154.50 341.6V344.2M172.11 341.6V344.2M189.73 341.6V344.2M207.34 341.6V344.2M224.95 341.6V344.2M242.56 341.6V344.2M260.18 341.6V344.2M277.79 341.6V344.2M295.40 341.6V344.2M313.02 341.6V344.2M330.63 341.6V344.2M348.24 341.6V344.2M365.86 341.6V344.2M383.47 341.6V344.2M401.08 341.6V344.2M418.69 341.6V344.2M436.31 341.6V344.2M453.92 341.6V344.2M471.53 341.6V344.2M489.15 341.6V344.2M506.76 341.6V344.2M524.37 341.6V344.2M541.99 341.6V344.2M559.60 341.6V344.2M577.21 341.6V344.2M594.83 341.6V344.2M612.44 341.6V344.2" stroke="#444" stroke-width="0.8" fill="none"/>
<g font-size="8.2" fill="#1a1a1a" stroke="#1a1a1a" stroke-width="0.15">
<text text-anchor="end" transform="translate(139.6 9.24) scale(1.02 1)">Vagina</text>
<text text-anchor="end" transform="translate(139.6 20.20) scale(1.02 1)">Uterus</text>
<text text-anchor="end" transform="translate(139.6 31.16) scale(1.02 1)">Thyroid</text>
<text text-anchor="end" transform="translate(139.6 42.12) scale(1.02 1)">Testis</text>
<text text-anchor="end" transform="translate(139.6 53.08) scale(1.02 1)">Stomach</text>
<text text-anchor="end" transform="translate(139.6 64.04) scale(1.02 1)">Skin - Sun Exposed (Lower leg)</text>
<text text-anchor="end" transform="translate(139.6 75.00) scale(1.02 1)">Skin - Not Sun Exposed (Suprapubic)</text>
<text text-anchor="end" transform="translate(139.6 85.96) scale(1.02 1)">Prostate</text>
<text text-anchor="end" transform="translate(139.6 96.92) scale(1.02 1)">Pituitary</text>
<text text-anchor="end" transform="translate(139.6 107.88) scale(1.02 1)">Pancreas</text>
<text text-anchor="end" transform="translate(139.6 118.84) scale(1.02 1)">Ovary</text>
<text text-anchor="end" transform="translate(139.6 129.80) scale(1.02 1)">Nerve - Tibial</text>
<text text-anchor="end" transform="translate(139.6 140.76) scale(1.02 1)">Muscle - Skeletal</text>
<text text-anchor="end" transform="translate(139.6 151.72) scale(1.02 1)">Lung</text>
<text text-anchor="end" transform="translate(139.6 162.68) scale(1.02 1)">Liver</text>
<text text-anchor="end" transform="translate(139.6 173.64) scale(1.02 1)">Kidney - Cortex</text>
<text text-anchor="end" transform="translate(139.6 184.60) scale(1.02 1)">Heart - Left Ventricle</text>
<text text-anchor="end" transform="translate(139.6 195.56) scale(1.02 1)">Heart - Atrial Appendage</text>
<text text-anchor="end" transform="translate(139.6 206.52) scale(1.02 1)">Fallopian Tube</text>
<text text-anchor="end" transform="translate(139.6 217.48) scale(1.02 1)">Esophagus - Muscularis</text>
<text text-anchor="end" transform="translate(139.6 228.44) scale(1.02 1)">Esophagus - Mucosa</text>
<text text-anchor="end" transform="translate(139.6 239.40) scale(1.02 1)">Colon - Transverse</text>
<text text-anchor="end" transform="translate(139.6 250.36) scale(1.02 1)">Breast - Mammary Tissue</text>
<text text-anchor="end" transform="translate(139.6 261.32) scale(1.02 1)">Brain - Cortex</text>
<text text-anchor="end" transform="translate(139.6 272.28) scale(1.02 1)">Artery - Tibial</text>
<text text-anchor="end" transform="translate(139.6 283.24) scale(1.02 1)">Artery - Coronary</text>
<text text-anchor="end" transform="translate(139.6 294.20) scale(1.02 1)">Artery - Aorta</text>
<text text-anchor="end" transform="translate(139.6 305.16) scale(1.02 1)">Adrenal Gland</text>
<text text-anchor="end" transform="translate(139.6 316.12) scale(1.02 1)">Adipose - Visceral (Omentum)</text>
<text text-anchor="end" transform="translate(139.6 327.08) scale(1.02 1)">Adipose - Subcutaneous</text>
<text text-anchor="end" transform="translate(139.6 338.04) scale(1.02 1)">Whole Blood</text>
<text text-anchor="end" transform="translate(160.40 345.5) scale(1.0 0.94) rotate(-90)">CD19</text>
<text text-anchor="end" transform="translate(178.01 345.5) scale(1.0 0.94) rotate(-90)">TNFRSF8</text>
<text text-anchor="end" transform="translate(195.63 345.5) scale(1.0 0.94) rotate(-90)">CD33</text>
<text text-anchor="end" transform="translate(213.24 345.5) scale(1.0 0.94) rotate(-90)">CD79B</text>
<text text-anchor="end" transform="translate(230.85 345.5) scale(1.0 0.94) rotate(-90)">CD22</text>
<text text-anchor="end" transform="translate(248.47 345.5) scale(1.0 0.94) rotate(-90)">CD37</text>
<text text-anchor="end" transform="translate(266.08 345.5) scale(1.0 0.94) rotate(-90)">SDC1</text>
<text text-anchor="end" transform="translate(283.69 345.5) scale(1.0 0.94) rotate(-90)">CD74</text>
<text text-anchor="end" transform="translate(301.30 345.5) scale(1.0 0.94) rotate(-90)">CD70</text>
<text text-anchor="end" transform="translate(318.92 345.5) scale(1.0 0.94) rotate(-90)">MUC16</text>
<text text-anchor="end" transform="translate(336.53 345.5) scale(1.0 0.94) rotate(-90)">GUCY2C</text>
<text text-anchor="end" transform="translate(354.14 345.5) scale(1.0 0.94) rotate(-90)">MSLN</text>
<text text-anchor="end" transform="translate(371.76 345.5) scale(1.0 0.94) rotate(-90)">SLC34A2</text>
<text text-anchor="end" transform="translate(389.37 345.5) scale(1.0 0.94) rotate(-90)">FOLH1</text>
<text text-anchor="end" transform="translate(406.98 345.5) scale(1.0 0.94) rotate(-90)">FOLR1</text>
<text text-anchor="end" transform="translate(424.59 345.5) scale(1.0 0.94) rotate(-90)">TPBG</text>
<text text-anchor="end" transform="translate(442.21 345.5) scale(1.0 0.94) rotate(-90)">CEACAM5</text>
<text text-anchor="end" transform="translate(459.82 345.5) scale(1.0 0.94) rotate(-90)">PVRL4</text>
<text text-anchor="end" transform="translate(477.43 345.5) scale(1.0 0.94) rotate(-90)">STEAP1</text>
<text text-anchor="end" transform="translate(495.05 345.5) scale(1.0 0.94) rotate(-90)">SLC44A4</text>
<text text-anchor="end" transform="translate(512.66 345.5) scale(1.0 0.94) rotate(-90)">TACSTD2</text>
<text text-anchor="end" transform="translate(530.27 345.5) scale(1.0 0.94) rotate(-90)">NCAM1</text>
<text text-anchor="end" transform="translate(547.89 345.5) scale(1.0 0.94) rotate(-90)">EDNRB</text>
<text text-anchor="end" transform="translate(565.50 345.5) scale(1.0 0.94) rotate(-90)">EGFR</text>
<text text-anchor="end" transform="translate(583.11 345.5) scale(1.0 0.94) rotate(-90)">GPNMB</text>
<text text-anchor="end" transform="translate(600.73 345.5) scale(1.0 0.94) rotate(-90)">MUC1</text>
<text text-anchor="end" transform="translate(618.34 345.5) scale(1.0 0.94) rotate(-90)">ERBB2</text>
</g>
<rect x="147.00" y="390.2" width="18.58" height="19.10" fill="#0000FF"/>
<rect x="164.58" y="390.2" width="18.58" height="19.10" fill="#0000FF"/>
<rect x="182.16" y="390.2" width="18.58" height="19.10" fill="#4300F5"/>
<rect x="199.74" y="390.2" width="18.58" height="19.10" fill="#5E00EB"/>
<rect x="217.32" y="390.2" width="18.58" height="19.10" fill="#7100E2"/>
<rect x="234.90" y="390.2" width="18.58" height="19.10" fill="#7100E2"/>
<rect x="252.48" y="390.2" width="18.58" height="19.10" fill="#B200A9"/>
<rect x="270.06" y="390.2" width="18.58" height="19.10" fill="#FF0000"/>
<rect x="287.64" y="390.2" width="18.58" height="19.10" fill="#0000FF"/>
<rect x="305.22" y="390.2" width="18.58" height="19.10" fill="#0000FF"/>
<rect x="322.80" y="390.2" width="18.58" height="19.10" fill="#4300F5"/>
<rect x="340.38" y="390.2" width="18.58" height="19.10" fill="#4300F5"/>
<rect x="357.96" y="390.2" width="18.58" height="19.10" fill="#4300F5"/>
<rect x="375.54" y="390.2" width="18.58" height="19.10" fill="#5E00EB"/>
<rect x="393.12" y="390.2" width="18.58" height="19.10" fill="#5E00EB"/>
<rect x="410.70" y="390.2" width="18.58" height="19.10" fill="#5E00EB"/>
<rect x="428.28" y="390.2" width="18.58" height="19.10" fill="#7100E2"/>
<rect x="445.86" y="390.2" width="18.58" height="19.10" fill="#8000D8"/>
<rect x="463.44" y="390.2" width="18.58" height="19.10" fill="#8000D8"/>
<rect x="481.02" y="390.2" width="18.58" height="19.10" fill="#8D00CE"/>
<rect x="498.60" y="390.2" width="18.58" height="19.10" fill="#AA00B2"/>
<rect x="516.18" y="390.2" width="18.58" height="19.10" fill="#B200A9"/>
<rect x="533.76" y="390.2" width="18.58" height="19.10" fill="#BA009F"/>
<rect x="551.34" y="390.2" width="18.58" height="19.10" fill="#BA009F"/>
<rect x="568.92" y="390.2" width="18.58" height="19.10" fill="#D70072"/>
<rect x="586.50" y="390.2" width="18.58" height="19.10" fill="#D70072"/>
<rect x="604.08" y="390.2" width="17.58" height="19.10" fill="#E00060"/>
<g font-size="8.4" fill="#f4eef4" text-anchor="middle">
<text transform="translate(155.79 403.3) scale(0.85 1)">0</text>
<text transform="translate(173.37 403.3) scale(0.85 1)">0</text>
<text transform="translate(190.95 403.3) scale(0.85 1)">1</text>
<text transform="translate(208.53 403.3) scale(0.85 1)">2</text>
<text transform="translate(226.11 403.3) scale(0.85 1)">3</text>
<text transform="translate(243.69 403.3) scale(0.85 1)">3</text>
<text transform="translate(261.27 403.3) scale(0.85 1)">9</text>
<text transform="translate(278.85 403.3) scale(0.85 1)">25</text>
<text transform="translate(296.43 403.3) scale(0.85 1)">0</text>
<text transform="translate(314.01 403.3) scale(0.85 1)">0</text>
<text transform="translate(331.59 403.3) scale(0.85 1)">1</text>
<text transform="translate(349.17 403.3) scale(0.85 1)">1</text>
<text transform="translate(366.75 403.3) scale(0.85 1)">1</text>
<text transform="translate(384.33 403.3) scale(0.85 1)">2</text>
<text transform="translate(401.91 403.3) scale(0.85 1)">2</text>
<text transform="translate(419.49 403.3) scale(0.85 1)">2</text>
<text transform="translate(437.07 403.3) scale(0.85 1)">3</text>
<text transform="translate(454.65 403.3) scale(0.85 1)">4</text>
<text transform="translate(472.23 403.3) scale(0.85 1)">4</text>
<text transform="translate(489.81 403.3) scale(0.85 1)">5</text>
<text transform="translate(507.39 403.3) scale(0.85 1)">8</text>
<text transform="translate(524.97 403.3) scale(0.85 1)">9</text>
<text transform="translate(542.55 403.3) scale(0.85 1)">10</text>
<text transform="translate(560.13 403.3) scale(0.85 1)">10</text>
<text transform="translate(577.71 403.3) scale(0.85 1)">15</text>
<text transform="translate(595.29 403.3) scale(0.85 1)">15</text>
<text transform="translate(612.87 403.3) scale(0.85 1)">17</text>
</g>
<path d="M287.6 390.5V409.3" stroke="#222" stroke-width="0.6" stroke-dasharray="0.8 0.8"/>
<rect x="147" y="414.8" width="140" height="3" fill="#000"/>
<rect x="290.7" y="414.8" width="330.8" height="3" fill="#000"/>
<g font-size="12.8" font-weight="bold" fill="#000">
<text transform="translate(175.8 438.1) scale(1.056 1)">Hematological</text>
<text transform="translate(175.8 453.7) scale(1.059 1)">malignancies</text>
<text transform="translate(411.8 437.7) scale(1.071 1)">Solid tumors</text>
</g>
<g font-size="9" font-weight="bold" fill="#000">
<text transform="translate(644.9 260.6) scale(0.98 1)">SizeBy</text>
<text transform="translate(644.9 270.5) scale(1.0 1)">Log2(RPKM+1)</text>
</g>
<rect x="644.4" y="272.6" width="14.2" height="8.0" fill="#fff" stroke="#d8d8d8" stroke-width="0.6"/>
<rect x="644.4" y="280.6" width="14.2" height="8.0" fill="#fff" stroke="#d8d8d8" stroke-width="0.6"/>
<rect x="644.4" y="288.6" width="14.2" height="9.7" fill="#fff" stroke="#d8d8d8" stroke-width="0.6"/>
<rect x="644.4" y="298.3" width="14.2" height="13.8" fill="#fff" stroke="#d8d8d8" stroke-width="0.6"/>
<ellipse cx="651.8" cy="276.60" rx="0.76" ry="0.70" fill="#000"/>
<text font-size="8.2" fill="#1a1a1a" transform="translate(660.5 279.50) scale(1.0 1)">0.0</text>
<ellipse cx="651.8" cy="284.60" rx="2.29" ry="2.10" fill="#000"/>
<text font-size="8.2" fill="#1a1a1a" transform="translate(660.5 287.50) scale(1.0 1)">2.5</text>
<ellipse cx="651.8" cy="293.45" rx="4.03" ry="3.70" fill="#000"/>
<text font-size="8.2" fill="#1a1a1a" transform="translate(660.5 296.35) scale(1.0 1)">5.0</text>
<ellipse cx="651.8" cy="305.20" rx="5.72" ry="5.25" fill="#000"/>
<text font-size="8.2" fill="#1a1a1a" transform="translate(660.5 308.10) scale(1.0 1)">7.5</text>
<text font-size="11" font-weight="bold" fill="#000" transform="translate(648.7 347.7) scale(0.98 1)">NormScore</text>
<defs><linearGradient id="cb" x1="0" y1="0" x2="0" y2="1"><stop offset="0.00" stop-color="#FF0000"/><stop offset="0.10" stop-color="#F6002A"/><stop offset="0.20" stop-color="#ED0044"/><stop offset="0.30" stop-color="#E3005B"/><stop offset="0.40" stop-color="#D70072"/><stop offset="0.50" stop-color="#CA0088"/><stop offset="0.60" stop-color="#BA009F"/><stop offset="0.70" stop-color="#A600B7"/><stop offset="0.80" stop-color="#8D00CE"/><stop offset="0.90" stop-color="#6800E7"/><stop offset="1.00" stop-color="#0000FF"/></linearGradient></defs>
<rect x="648.1" y="351.1" width="11.8" height="60.7" fill="url(#cb)"/>
<path d="M648.1 410.40h2.2M657.7 410.40h2.2M648.1 399.00h2.2M657.7 399.00h2.2M648.1 387.60h2.2M657.7 387.60h2.2M648.1 376.20h2.2M657.7 376.20h2.2M648.1 364.80h2.2M657.7 364.80h2.2M648.1 353.40h2.2M657.7 353.40h2.2" stroke="#fff" stroke-width="0.6" fill="none"/>
<g font-size="10.6" fill="#1a1a1a">
<text transform="translate(663.4 414.00)">0</text>
<text transform="translate(663.4 402.60)">5</text>
<text transform="translate(663.4 391.20)">10</text>
<text transform="translate(663.4 379.80)">15</text>
<text transform="translate(663.4 368.40)">20</text>
<text transform="translate(663.4 357.00)">25</text>
</g>
</svg></body></html>
